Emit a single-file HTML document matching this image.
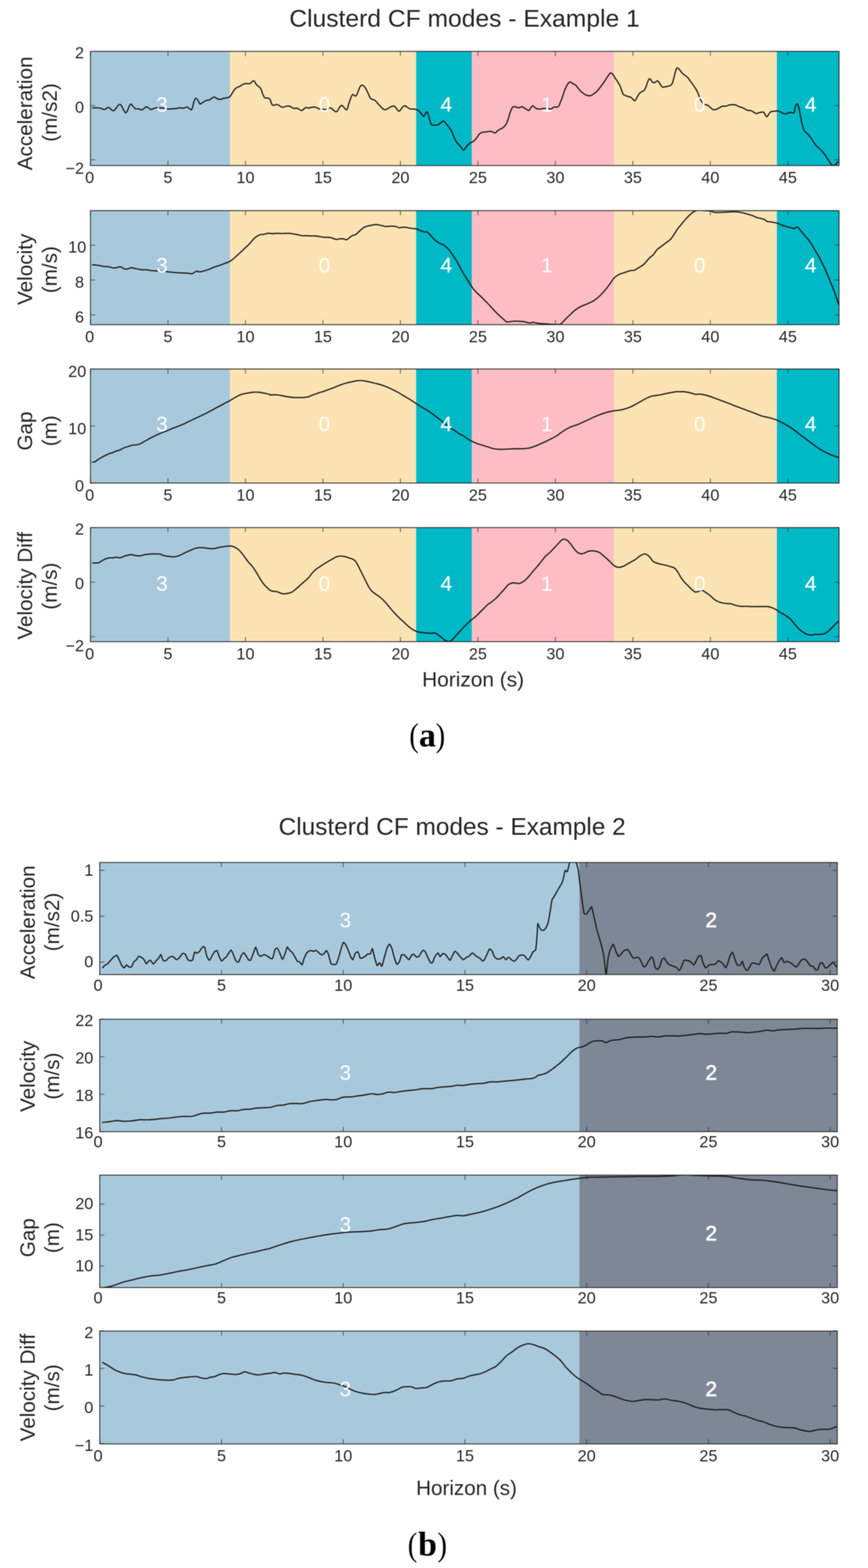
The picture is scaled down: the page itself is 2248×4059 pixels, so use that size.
<!DOCTYPE html>
<html><head><meta charset="utf-8"><title>Clusterd CF modes</title>
<style>html,body{margin:0;padding:0;background:#fff;}svg{display:block;}</style>
</head><body>
<svg width="2248" height="4059" viewBox="0 0 2248 4059">
<defs><filter id="soft" x="0" y="0" width="1" height="1" filterUnits="objectBoundingBox" color-interpolation-filters="sRGB"><feGaussianBlur stdDeviation="0.8"/></filter></defs>
<g filter="url(#soft)">
<rect x="0" y="0" width="2248" height="4059" fill="#ffffff"/>
<text x="1203" y="69.2" font-family="'Liberation Sans', Arial, Helvetica, sans-serif" font-size="63.8" fill="#262626" text-anchor="middle">Clusterd CF modes - Example 1</text>
<text x="1171" y="2161" font-family="'Liberation Sans', Arial, Helvetica, sans-serif" font-size="63.2" fill="#262626" text-anchor="middle">Clusterd CF modes - Example 2</text>
<g id="a1">
<rect x="234.3" y="133" width="361.3" height="295.5" fill="#a8c9dc"/>
<rect x="595.6" y="133" width="482.2" height="295.5" fill="#fbe3b4"/>
<rect x="1077.8" y="133" width="144.1" height="295.5" fill="#00b9c7"/>
<rect x="1221.9" y="133" width="368.6" height="295.5" fill="#febdc4"/>
<rect x="1590.5" y="133" width="421.6" height="295.5" fill="#fbe3b4"/>
<rect x="2012.1" y="133" width="160.9" height="295.5" fill="#00b9c7"/>
<clipPath id="clip_a1"><rect x="234.3" y="133" width="1938.7" height="295.5"/></clipPath>
<path clip-path="url(#clip_a1)" d="M239.8,279.2C241.7,279.2 247.7,279.0 251.0,279.2C254.4,279.3 256.9,279.2 259.8,279.9C262.7,280.6 266.2,283.0 268.5,283.4C270.9,283.8 272.0,283.2 273.8,282.3C275.6,281.4 277.3,278.5 279.1,278.1C280.8,277.7 282.3,278.5 284.3,279.9C286.4,281.2 289.3,285.3 291.3,286.2C293.4,287.0 294.8,286.5 296.6,285.1C298.3,283.8 299.8,280.6 301.8,278.1C303.9,275.7 306.8,271.3 308.8,270.4C310.9,269.5 312.3,270.7 314.1,272.9C315.8,275.0 317.5,280.2 319.3,283.4C321.2,286.6 323.6,291.5 325.3,292.1C327.1,292.7 328.2,289.9 329.9,286.9C331.5,283.8 333.5,276.8 335.1,273.9C336.7,271.0 337.9,269.2 339.3,269.3C340.8,269.5 341.9,272.6 343.9,274.6C345.8,276.6 348.5,280.4 350.9,281.6C353.2,282.8 355.3,281.1 357.9,281.6C360.5,282.1 364.3,284.4 366.7,284.4C369.0,284.4 369.9,283.0 371.9,281.6C374.0,280.3 376.9,276.8 378.9,276.4C381.0,275.9 382.1,278.0 384.2,279.2C386.2,280.3 388.8,283.1 391.2,283.4C393.5,283.7 395.8,281.7 398.2,280.9C400.5,280.2 402.9,279.0 405.2,278.8C407.5,278.6 409.9,279.8 412.2,279.9C414.5,279.9 416.9,279.0 419.2,279.2C421.5,279.3 423.3,280.4 426.2,280.9C429.1,281.4 433.2,282.2 436.7,282.3C440.2,282.4 443.7,281.8 447.2,281.6C450.7,281.4 454.8,281.3 457.8,280.9C460.7,280.5 461.8,279.3 464.8,279.2C467.7,279.0 472.1,280.2 475.3,279.9C478.5,279.5 481.7,277.1 484.0,277.1C486.4,277.1 487.4,278.6 489.3,279.9C491.2,281.1 493.8,284.4 495.2,284.4C496.7,284.4 496.8,283.5 498.0,279.9C499.3,276.2 501.1,266.6 502.6,262.3C504.1,258.1 505.2,254.9 506.8,254.3C508.4,253.7 510.3,256.4 512.1,258.8C513.8,261.2 515.9,267.1 517.3,268.6C518.8,270.2 519.1,269.2 520.8,268.3C522.6,267.4 525.5,264.8 527.8,263.4C530.2,262.0 532.5,260.6 534.8,259.9C537.2,259.1 539.8,259.6 541.8,258.8C543.9,258.1 545.1,256.6 547.1,255.3C549.1,254.0 552.1,251.4 554.1,251.1C556.2,250.8 557.3,252.6 559.4,253.6C561.4,254.6 564.3,256.5 566.4,257.1C568.4,257.7 569.6,257.5 571.6,257.1C573.7,256.7 576.3,255.2 578.6,254.6C581.0,254.0 583.3,254.0 585.6,253.6C588.0,253.1 590.9,252.5 592.6,251.8C594.4,251.1 594.7,251.1 596.2,249.4C597.6,247.6 599.7,244.1 601.4,241.3C603.2,238.5 604.6,235.1 606.7,232.6C608.7,230.0 611.3,227.7 613.7,226.3C616.0,224.8 618.6,224.8 620.7,223.8C622.7,222.8 623.9,221.5 625.9,220.3C628.0,219.1 630.9,217.5 632.9,216.8C635.0,216.1 636.2,216.1 638.2,216.1C640.2,216.1 643.2,217.1 645.2,216.8C647.3,216.4 648.7,215.3 650.5,214.0C652.2,212.7 654.3,209.6 655.7,209.1C657.2,208.6 657.8,209.1 659.2,210.8C660.7,212.6 662.4,217.3 664.5,219.6C666.5,221.9 669.6,223.1 671.5,224.8C673.4,226.6 674.2,227.1 675.7,230.1C677.2,233.1 678.6,239.3 680.2,243.1C681.9,246.9 683.7,251.1 685.5,252.9C687.3,254.6 689.0,253.3 690.8,253.6C692.5,253.8 694.5,253.4 696.0,254.3C697.6,255.2 698.6,256.2 700.0,258.8C701.4,261.5 702.7,268.1 704.2,270.4C705.7,272.7 706.8,272.9 708.8,272.9C710.7,272.9 713.7,270.6 715.8,270.4C717.8,270.2 719.0,270.8 721.0,271.8C723.1,272.8 726.0,275.4 728.0,276.4C730.1,277.3 731.2,277.6 733.3,277.4C735.3,277.2 737.7,275.8 740.3,275.3C742.9,274.8 746.4,274.1 749.1,274.6C751.7,275.1 754.0,277.1 756.1,278.1C758.1,279.2 759.3,280.6 761.3,280.9C763.4,281.2 766.0,279.5 768.3,279.9C770.7,280.3 773.2,282.3 775.3,283.4C777.5,284.4 779.2,286.5 781.3,286.2C783.3,285.9 785.7,283.0 787.6,281.6C789.5,280.3 790.8,278.4 792.9,278.1C794.9,277.8 797.8,279.9 799.9,279.9C801.9,279.9 803.1,278.6 805.1,278.1C807.2,277.6 809.8,277.1 812.1,277.1C814.5,277.1 816.8,277.3 819.1,278.1C821.5,278.9 823.8,280.9 826.1,281.6C828.5,282.3 830.8,282.0 833.1,282.3C835.5,282.6 837.8,283.3 840.2,283.4C842.5,283.4 844.5,283.4 847.2,282.7C849.8,282.0 853.3,278.9 855.9,279.2C858.5,279.5 860.5,282.7 862.9,284.4C865.4,286.1 868.6,289.2 870.6,289.3C872.7,289.4 873.6,287.3 875.2,285.1C876.8,283.0 878.7,278.4 880.4,276.4C882.2,274.3 884.0,272.6 885.7,272.9C887.5,273.1 888.9,276.2 891.0,278.1C893.0,280.0 895.9,285.9 898.0,284.4C900.0,283.0 901.5,274.5 903.2,269.3C905.0,264.2 906.8,257.7 908.5,253.6C910.1,249.5 911.3,245.7 913.0,244.8C914.8,243.9 917.4,247.9 919.0,248.3C920.6,248.8 921.2,249.4 922.5,247.6C923.8,245.9 925.5,241.5 927.0,237.8C928.6,234.1 930.3,228.5 932.0,225.6C933.6,222.6 935.3,220.6 937.2,220.3C939.1,220.0 941.6,221.9 943.5,223.8C945.4,225.7 947.0,228.6 948.8,231.9C950.5,235.1 952.3,239.3 954.0,243.1C955.8,246.8 957.5,251.8 959.3,254.3C961.0,256.7 962.8,257.0 964.5,257.8C966.3,258.5 967.8,257.5 969.8,258.8C971.8,260.2 974.5,263.3 976.8,265.8C979.1,268.4 981.5,271.4 983.8,273.9C986.1,276.4 988.6,279.2 990.8,280.9C993.0,282.6 994.8,284.1 997.1,284.1C999.5,284.1 1002.4,282.2 1004.8,280.9C1007.3,279.6 1009.2,277.4 1011.8,276.4C1014.5,275.3 1018.3,274.0 1020.6,274.6C1022.9,275.2 1023.8,277.6 1025.9,279.9C1027.9,282.1 1030.8,287.3 1032.9,287.9C1034.9,288.5 1036.4,285.3 1038.1,283.4C1039.9,281.4 1041.6,277.9 1043.4,276.4C1045.1,274.8 1046.6,273.6 1048.6,273.9C1050.7,274.2 1053.3,276.7 1055.6,278.1C1058.0,279.5 1060.0,281.6 1062.6,282.3C1065.3,283.0 1068.8,282.1 1071.4,282.3C1074.0,282.5 1076.1,282.4 1078.4,283.4C1080.8,284.3 1083.1,285.9 1085.4,287.9C1087.8,290.0 1090.4,293.5 1092.4,295.6C1094.5,297.8 1095.9,301.5 1097.7,300.9C1099.4,300.3 1101.5,294.0 1102.9,292.1C1104.4,290.3 1105.3,288.5 1106.4,289.7C1107.6,290.8 1108.7,294.9 1110.0,299.1C1111.2,303.3 1112.7,310.8 1114.2,314.9C1115.6,319.0 1116.8,322.2 1118.7,323.7C1120.6,325.1 1123.1,323.8 1125.7,323.7C1128.3,323.5 1132.1,323.7 1134.5,323.0C1136.8,322.3 1137.9,320.9 1139.7,319.5C1141.6,318.0 1143.9,315.1 1145.7,314.2C1147.4,313.3 1148.6,313.2 1150.2,314.2C1151.9,315.2 1153.5,317.7 1155.5,320.2C1157.5,322.6 1160.2,325.7 1162.5,328.9C1164.8,332.1 1167.5,335.5 1169.5,339.4C1171.6,343.3 1173.3,348.9 1174.8,352.4C1176.2,355.9 1176.8,357.6 1178.3,360.4C1179.7,363.3 1181.5,366.6 1183.5,369.2C1185.6,371.8 1187.8,373.0 1190.5,376.2C1193.3,379.4 1197.5,387.3 1200.0,388.5C1202.5,389.6 1203.2,385.6 1205.3,383.2C1207.3,380.9 1209.9,376.8 1212.3,374.5C1214.6,372.1 1216.9,370.7 1219.3,369.2C1221.6,367.7 1223.9,367.5 1226.3,365.7C1228.6,364.0 1231.0,361.6 1233.3,358.7C1235.6,355.8 1238.0,350.8 1240.3,348.2C1242.6,345.6 1244.7,344.0 1247.3,342.9C1249.9,341.9 1253.1,342.3 1256.1,341.9C1259.0,341.5 1261.9,340.7 1264.8,340.5C1267.7,340.2 1270.7,339.9 1273.6,340.5C1276.5,341.1 1279.7,344.4 1282.3,344.0C1285.0,343.5 1287.0,339.3 1289.3,337.7C1291.7,336.0 1294.0,335.5 1296.4,334.2C1298.7,332.9 1301.0,332.0 1303.4,330.0C1305.7,327.9 1308.3,325.3 1310.4,321.9C1312.4,318.5 1313.9,314.6 1315.6,309.6C1317.4,304.7 1319.1,297.1 1320.9,292.1C1322.6,287.2 1324.4,282.6 1326.1,279.9C1327.9,277.1 1329.6,276.1 1331.4,275.7C1333.1,275.2 1334.6,276.9 1336.7,277.4C1338.7,277.9 1341.0,279.0 1343.7,278.8C1346.3,278.6 1349.8,276.1 1352.4,276.4C1355.0,276.6 1357.4,279.3 1359.4,280.6C1361.5,281.8 1362.9,282.8 1364.7,283.7C1366.4,284.6 1368.2,286.8 1369.9,285.8C1371.7,284.9 1373.4,280.1 1375.2,278.1C1376.9,276.1 1378.7,273.8 1380.4,273.9C1382.2,274.0 1384.0,277.5 1385.7,278.8C1387.5,280.1 1388.9,281.0 1391.0,281.6C1393.0,282.2 1395.3,282.4 1398.0,282.3C1400.6,282.2 1404.1,281.2 1406.7,280.9C1409.4,280.6 1411.4,280.6 1413.7,280.6C1416.1,280.6 1418.5,280.6 1420.7,280.9C1423.0,281.2 1424.7,283.0 1427.0,282.3C1429.4,281.7 1432.3,277.9 1434.8,277.1C1437.2,276.2 1439.7,277.8 1441.8,277.4C1443.8,277.0 1445.3,277.1 1447.0,274.6C1448.8,272.1 1450.5,266.7 1452.3,262.3C1454.0,258.0 1455.8,253.3 1457.5,248.3C1459.3,243.4 1460.7,237.5 1462.8,232.6C1464.8,227.6 1467.5,221.9 1469.8,218.5C1472.1,215.2 1474.5,212.5 1476.8,212.2C1479.1,211.9 1481.5,215.4 1483.8,216.8C1486.1,218.1 1488.5,218.3 1490.8,220.3C1493.2,222.3 1495.5,226.3 1497.8,229.1C1500.2,231.9 1502.5,234.9 1504.8,237.1C1507.2,239.3 1509.5,240.8 1511.8,242.4C1514.2,243.9 1515.9,245.7 1518.9,246.6C1521.8,247.4 1526.4,248.1 1529.4,247.6C1532.3,247.2 1533.7,245.5 1536.4,243.8C1539.0,242.0 1542.2,240.0 1545.1,237.1C1548.0,234.3 1551.0,230.3 1553.9,226.6C1556.8,222.9 1559.7,219.2 1562.6,215.0C1565.6,210.9 1568.8,205.6 1571.4,201.7C1574.0,197.8 1576.7,193.7 1578.4,191.6C1580.2,189.4 1580.5,188.6 1581.9,188.8C1583.4,188.9 1585.4,190.2 1587.2,192.3C1588.9,194.3 1590.4,197.8 1592.4,201.0C1594.5,204.2 1597.1,207.7 1599.4,211.5C1601.8,215.3 1604.1,218.5 1606.4,223.8C1608.8,229.1 1611.1,239.1 1613.5,243.1C1615.8,247.0 1618.1,246.5 1620.5,247.6C1622.8,248.8 1625.1,249.3 1627.5,250.1C1629.8,250.8 1631.9,250.4 1634.5,252.2C1637.1,253.9 1640.9,260.2 1643.2,260.6C1645.6,261.0 1646.4,257.7 1648.5,254.6C1650.5,251.6 1653.2,245.3 1655.5,242.4C1657.8,239.4 1660.5,238.5 1662.5,237.1C1664.6,235.8 1666.0,236.4 1667.8,234.3C1669.5,232.3 1671.3,228.9 1673.0,224.8C1674.8,220.8 1676.6,213.3 1678.3,209.8C1679.9,206.3 1681.1,203.5 1682.8,203.8C1684.6,204.1 1686.9,209.8 1688.8,211.5C1690.7,213.3 1691.7,214.7 1694.0,214.3C1696.4,214.0 1700.4,209.2 1702.8,209.4C1705.1,209.5 1706.3,213.0 1708.0,215.3C1709.8,217.7 1711.7,221.6 1713.3,223.4C1714.9,225.1 1715.8,225.7 1717.8,225.8C1719.9,226.0 1722.5,224.9 1725.6,224.1C1728.6,223.3 1733.4,222.7 1736.1,221.3C1738.7,219.8 1739.9,218.4 1741.3,215.3C1742.8,212.3 1743.7,207.4 1744.8,203.1C1746.0,198.7 1747.2,193.3 1748.3,189.1C1749.5,184.8 1750.7,180.1 1751.8,177.8C1753.0,175.6 1753.9,175.2 1755.3,175.7C1756.8,176.3 1758.5,179.0 1760.6,181.3C1762.6,183.7 1765.3,187.8 1767.6,190.1C1769.9,192.4 1772.3,193.5 1774.6,195.4C1776.9,197.2 1779.3,198.7 1781.6,201.3C1783.9,203.9 1786.3,207.9 1788.6,211.1C1791.0,214.3 1793.3,217.3 1795.6,220.6C1798.0,223.9 1800.6,227.6 1802.6,231.1C1804.7,234.6 1806.1,237.5 1807.9,241.6C1809.6,245.7 1811.4,251.8 1813.1,255.6C1814.9,259.4 1816.7,262.1 1818.4,264.4C1820.2,266.7 1821.9,268.5 1823.7,269.6C1825.4,270.8 1827.2,270.8 1828.9,271.4C1830.7,272.0 1832.1,271.8 1834.2,273.1C1836.2,274.5 1838.8,277.6 1841.2,279.5C1843.5,281.3 1845.8,283.8 1848.2,284.4C1850.5,284.9 1852.9,283.8 1855.2,283.0C1857.5,282.1 1859.6,280.8 1862.2,279.5C1864.8,278.1 1868.0,275.7 1871.0,274.9C1873.9,274.1 1876.5,275.5 1879.7,274.9C1882.9,274.3 1886.1,272.0 1890.2,271.4C1894.3,270.8 1900.7,270.8 1904.2,271.4C1907.8,272.0 1908.3,273.7 1911.3,274.9C1914.2,276.1 1918.8,277.2 1921.8,278.4C1924.7,279.6 1926.4,280.7 1928.8,281.9C1931.1,283.1 1933.2,284.7 1935.8,285.4C1938.4,286.2 1941.9,285.7 1944.5,286.5C1947.2,287.2 1949.2,288.7 1951.5,290.0C1953.9,291.2 1956.5,293.8 1958.6,294.2C1960.6,294.6 1961.8,293.0 1963.8,292.4C1965.9,291.8 1968.5,291.0 1970.8,290.7C1973.2,290.4 1975.8,289.2 1977.8,290.7C1979.9,292.1 1981.6,297.6 1983.1,299.4C1984.5,301.3 1985.1,302.8 1986.6,301.9C1988.0,301.0 1990.1,296.3 1991.8,294.2C1993.6,292.0 1994.8,290.0 1997.1,288.9C1999.4,287.9 2002.9,288.2 2005.9,287.9C2008.8,287.6 2012.0,286.8 2014.6,287.2C2017.2,287.5 2019.0,288.8 2021.6,290.0C2024.3,291.1 2027.8,293.5 2030.4,294.2C2033.0,294.9 2034.8,294.8 2037.4,294.2C2040.0,293.6 2043.8,291.0 2046.2,290.7C2048.5,290.4 2049.7,292.4 2051.4,292.4C2053.2,292.4 2055.2,293.6 2056.7,290.7C2058.1,287.7 2058.9,278.5 2060.2,274.9C2061.5,271.3 2063.0,268.6 2064.4,268.9C2065.7,269.2 2066.9,271.9 2068.2,276.7C2069.6,281.4 2070.9,290.1 2072.4,297.7C2074.0,305.3 2075.9,315.5 2077.7,322.2C2079.4,328.9 2080.6,333.9 2082.9,338.0C2085.3,342.1 2088.8,343.5 2091.7,346.7C2094.6,349.9 2097.8,353.6 2100.5,357.2C2103.1,360.9 2105.1,365.1 2107.5,368.5C2109.8,371.8 2111.6,374.5 2114.5,377.6C2117.4,380.7 2121.5,383.4 2125.0,387.0C2128.5,390.6 2132.6,395.5 2135.5,399.3C2138.4,403.1 2140.2,406.3 2142.5,409.8C2144.8,413.3 2147.5,417.4 2149.5,420.3C2151.6,423.2 2152.7,426.1 2154.8,427.3C2156.8,428.5 2159.4,428.5 2161.8,427.3C2164.1,426.1 2166.7,422.1 2168.8,420.3C2170.8,418.6 2173.2,417.4 2174.0,416.8" fill="none" stroke="#1a1a1a" stroke-width="3.2" stroke-linejoin="round" stroke-linecap="round"/>
<path d="M234.3,428.5v-12M234.3,133.0v12M435.0,428.5v-12M435.0,133.0v12M635.7,428.5v-12M635.7,133.0v12M836.3,428.5v-12M836.3,133.0v12M1037.0,428.5v-12M1037.0,133.0v12M1237.7,428.5v-12M1237.7,133.0v12M1438.4,428.5v-12M1438.4,133.0v12M1639.1,428.5v-12M1639.1,133.0v12M1839.7,428.5v-12M1839.7,133.0v12M2040.4,428.5v-12M2040.4,133.0v12M234.3,413.6h12M2173.0,413.6h-12M234.3,273.3h12M2173.0,273.3h-12M234.3,133.0h12M2173.0,133.0h-12" stroke="#262626" stroke-opacity="0.75" stroke-width="2" fill="none"/>
<rect x="234.3" y="133" width="1938.7" height="295.5" fill="none" stroke="#262626" stroke-width="2.2"/>
<text x="419.4" y="289.0" font-family="'Liberation Sans', Arial, Helvetica, sans-serif" font-size="54" fill="#ffffff" text-anchor="middle">3</text>
<text x="840.3" y="289.0" font-family="'Liberation Sans', Arial, Helvetica, sans-serif" font-size="54" fill="#ffffff" text-anchor="middle">0</text>
<text x="1155.7" y="289.0" font-family="'Liberation Sans', Arial, Helvetica, sans-serif" font-size="54" fill="#ffffff" text-anchor="middle" stroke="#ffffff" stroke-width="0.6">4</text>
<text x="1416.3" y="289.0" font-family="'Liberation Sans', Arial, Helvetica, sans-serif" font-size="54" fill="#ffffff" text-anchor="middle">1</text>
<text x="1812.1" y="289.0" font-family="'Liberation Sans', Arial, Helvetica, sans-serif" font-size="54" fill="#ffffff" text-anchor="middle">0</text>
<text x="2099.4" y="289.0" font-family="'Liberation Sans', Arial, Helvetica, sans-serif" font-size="54" fill="#ffffff" text-anchor="middle" stroke="#ffffff" stroke-width="0.6">4</text>
<text x="232.3" y="473.5" font-family="'Liberation Sans', Arial, Helvetica, sans-serif" font-size="42" fill="#262626" text-anchor="middle">0</text>
<text x="435.0" y="473.5" font-family="'Liberation Sans', Arial, Helvetica, sans-serif" font-size="42" fill="#262626" text-anchor="middle">5</text>
<text x="635.7" y="473.5" font-family="'Liberation Sans', Arial, Helvetica, sans-serif" font-size="42" fill="#262626" text-anchor="middle">10</text>
<text x="836.3" y="473.5" font-family="'Liberation Sans', Arial, Helvetica, sans-serif" font-size="42" fill="#262626" text-anchor="middle">15</text>
<text x="1037.0" y="473.5" font-family="'Liberation Sans', Arial, Helvetica, sans-serif" font-size="42" fill="#262626" text-anchor="middle">20</text>
<text x="1237.7" y="473.5" font-family="'Liberation Sans', Arial, Helvetica, sans-serif" font-size="42" fill="#262626" text-anchor="middle">25</text>
<text x="1438.4" y="473.5" font-family="'Liberation Sans', Arial, Helvetica, sans-serif" font-size="42" fill="#262626" text-anchor="middle">30</text>
<text x="1639.1" y="473.5" font-family="'Liberation Sans', Arial, Helvetica, sans-serif" font-size="42" fill="#262626" text-anchor="middle">35</text>
<text x="1839.7" y="473.5" font-family="'Liberation Sans', Arial, Helvetica, sans-serif" font-size="42" fill="#262626" text-anchor="middle">40</text>
<text x="2040.4" y="473.5" font-family="'Liberation Sans', Arial, Helvetica, sans-serif" font-size="42" fill="#262626" text-anchor="middle">45</text>
<text x="217.6" y="450.0" font-family="'Liberation Sans', Arial, Helvetica, sans-serif" font-size="42" fill="#262626" text-anchor="end">−2</text>
<text x="217.6" y="291.7" font-family="'Liberation Sans', Arial, Helvetica, sans-serif" font-size="42" fill="#262626" text-anchor="end">0</text>
<text x="217.6" y="151.4" font-family="'Liberation Sans', Arial, Helvetica, sans-serif" font-size="42" fill="#262626" text-anchor="end">2</text>
<text transform="translate(83.1,293.5) rotate(-90)" x="0" y="0" font-family="'Liberation Sans', Arial, Helvetica, sans-serif" font-size="53.5" fill="#262626" text-anchor="middle">Acceleration</text>
<text transform="translate(147.2,291.3) rotate(-90)" x="0" y="0" font-family="'Liberation Sans', Arial, Helvetica, sans-serif" font-size="53.5" fill="#262626" text-anchor="middle">(m/s2)</text>
</g>
<g id="a2">
<rect x="234.3" y="545.2" width="361.3" height="295.2" fill="#a8c9dc"/>
<rect x="595.6" y="545.2" width="482.2" height="295.2" fill="#fbe3b4"/>
<rect x="1077.8" y="545.2" width="144.1" height="295.2" fill="#00b9c7"/>
<rect x="1221.9" y="545.2" width="368.6" height="295.2" fill="#febdc4"/>
<rect x="1590.5" y="545.2" width="421.6" height="295.2" fill="#fbe3b4"/>
<rect x="2012.1" y="545.2" width="160.9" height="295.2" fill="#00b9c7"/>
<clipPath id="clip_a2"><rect x="234.3" y="545.2" width="1938.7" height="295.2"/></clipPath>
<path clip-path="url(#clip_a2)" d="M239.8,685.4C241.7,685.6 247.4,686.0 251.0,686.5C254.6,686.9 258.3,687.6 261.5,688.2C264.7,688.8 267.4,689.7 270.3,690.0C273.2,690.3 276.4,689.7 279.1,690.0C281.7,690.3 283.7,691.1 286.1,691.7C288.4,692.3 290.4,693.2 293.1,693.5C295.7,693.7 299.2,693.6 301.8,693.1C304.5,692.7 306.8,691.0 308.8,690.7C310.9,690.4 312.0,690.6 314.1,691.4C316.1,692.1 319.1,694.3 321.1,695.2C323.1,696.2 324.3,697.0 326.4,697.0C328.4,697.0 331.0,695.9 333.4,695.2C335.7,694.6 337.7,693.2 340.4,693.1C343.0,693.1 345.9,694.2 349.1,694.9C352.3,695.5 356.4,696.4 359.6,697.0C362.9,697.6 364.9,698.1 368.4,698.4C371.9,698.6 376.9,698.0 380.7,698.4C384.5,698.7 387.1,700.0 391.2,700.5C395.3,700.9 400.5,700.9 405.2,701.2C409.9,701.4 414.5,701.5 419.2,701.9C423.9,702.2 428.6,702.8 433.2,703.3C437.9,703.8 442.6,704.6 447.2,705.0C451.9,705.5 456.6,705.8 461.3,706.1C465.9,706.4 470.6,706.5 475.3,706.8C479.9,707.0 485.8,707.1 489.3,707.5C492.8,707.8 494.2,709.1 496.3,708.9C498.3,708.7 499.5,707.5 501.5,706.4C503.6,705.3 506.2,702.7 508.6,702.2C510.9,701.8 513.2,703.5 515.6,703.6C517.9,703.7 519.9,703.5 522.6,702.9C525.2,702.4 528.1,701.5 531.3,700.5C534.5,699.5 538.6,698.2 541.8,697.0C545.1,695.7 547.7,694.3 550.6,693.1C553.5,692.0 556.2,691.1 559.4,690.0C562.6,688.9 566.4,687.7 569.9,686.5C573.4,685.2 576.9,683.9 580.4,682.6C583.9,681.3 588.3,679.9 590.9,678.8C593.5,677.6 594.4,677.0 596.2,675.9C597.9,674.9 598.8,674.5 601.4,672.4C604.0,670.3 608.4,666.4 611.9,663.3C615.4,660.2 618.9,657.1 622.4,653.9C625.9,650.6 629.4,647.0 632.9,643.7C636.4,640.4 640.2,637.2 643.5,633.9C646.7,630.6 649.6,627.0 652.2,624.1C654.8,621.2 656.6,618.7 659.2,616.4C661.9,614.0 665.4,611.6 668.0,610.1C670.6,608.6 672.4,607.9 675.0,607.3C677.6,606.7 680.8,607.1 683.7,606.6C686.7,606.0 689.9,604.5 692.5,604.1C695.1,603.7 698.3,604.1 699.5,604.1C700.8,604.1 698.5,604.0 700.0,604.1C701.5,604.2 705.8,604.9 708.8,604.8C711.7,604.8 714.3,603.8 717.5,603.8C720.7,603.7 724.5,604.4 728.0,604.5C731.5,604.5 734.7,604.2 738.5,604.1C742.3,604.1 747.0,603.8 750.8,604.1C754.6,604.4 757.8,605.3 761.3,605.9C764.8,606.5 768.3,606.9 771.8,607.6C775.3,608.3 778.8,609.7 782.3,610.1C785.8,610.5 789.1,610.0 792.9,610.1C796.6,610.2 801.0,610.7 805.1,610.8C809.2,610.9 813.6,610.5 817.4,610.8C821.2,611.1 824.1,611.9 827.9,612.5C831.7,613.1 835.8,613.9 840.2,614.3C844.5,614.6 850.4,614.2 854.2,614.6C858.0,615.1 860.0,616.2 862.9,617.1C865.8,618.0 868.5,619.8 871.7,619.9C874.9,620.0 879.0,618.0 882.2,617.8C885.4,617.6 888.3,618.4 891.0,618.8C893.6,619.3 895.6,621.2 898.0,620.6C900.3,620.0 902.6,617.1 905.0,615.3C907.3,613.6 909.4,611.4 912.0,610.1C914.6,608.7 918.1,608.7 920.7,607.3C923.4,605.8 925.1,603.7 927.8,601.3C930.4,599.0 933.6,595.6 936.5,593.3C939.4,590.9 942.3,588.8 945.3,587.3C948.2,585.8 951.1,585.2 954.0,584.5C956.9,583.8 959.9,583.6 962.8,583.1C965.7,582.6 968.6,581.5 971.5,581.3C974.5,581.2 977.1,581.5 980.3,582.0C983.5,582.6 987.6,583.8 990.8,584.5C994.0,585.2 996.4,586.1 999.6,586.3C1002.8,586.4 1006.6,585.7 1010.1,585.6C1013.6,585.4 1017.7,585.3 1020.6,585.6C1023.5,585.8 1025.3,586.6 1027.6,587.3C1029.9,588.0 1032.3,589.6 1034.6,589.8C1037.0,589.9 1039.3,588.6 1041.6,588.4C1044.0,588.1 1046.0,587.8 1048.6,588.0C1051.3,588.2 1054.2,589.2 1057.4,589.8C1060.6,590.3 1064.4,591.0 1067.9,591.5C1071.4,592.0 1075.5,591.9 1078.4,592.6C1081.3,593.2 1083.1,594.4 1085.4,595.4C1087.8,596.3 1090.1,597.3 1092.4,598.2C1094.8,599.0 1097.1,599.9 1099.4,600.3C1101.8,600.7 1104.1,599.4 1106.4,600.6C1108.8,601.8 1111.1,604.8 1113.5,607.3C1115.8,609.7 1117.8,612.6 1120.5,615.3C1123.1,618.0 1126.3,621.1 1129.2,623.4C1132.1,625.7 1135.1,627.7 1138.0,629.3C1140.9,631.0 1143.8,631.6 1146.7,633.2C1149.7,634.8 1152.9,637.0 1155.5,639.2C1158.1,641.3 1160.2,643.4 1162.5,646.2C1164.8,648.9 1167.2,652.3 1169.5,655.6C1171.9,659.0 1173.9,662.1 1176.5,666.1C1179.2,670.2 1182.4,675.0 1185.3,680.2C1188.2,685.3 1191.6,692.4 1194.0,697.0C1196.5,701.5 1197.8,703.9 1200.0,707.5C1202.2,711.1 1204.4,714.5 1207.0,718.7C1209.6,722.9 1212.8,728.2 1215.8,732.7C1218.7,737.3 1221.6,742.1 1224.5,746.0C1227.4,749.9 1230.1,752.9 1233.3,756.2C1236.5,759.5 1240.3,762.6 1243.8,766.0C1247.3,769.4 1250.8,773.0 1254.3,776.5C1257.8,780.0 1261.3,783.3 1264.8,787.0C1268.3,790.7 1271.8,794.8 1275.3,798.6C1278.8,802.4 1282.3,806.3 1285.8,809.8C1289.3,813.3 1293.1,816.7 1296.4,819.6C1299.6,822.5 1302.5,825.0 1305.1,827.3C1307.7,829.6 1309.8,832.3 1312.1,833.3C1314.5,834.2 1316.2,833.2 1319.1,832.9C1322.1,832.6 1326.1,831.8 1329.6,831.5C1333.1,831.3 1336.7,831.5 1340.2,831.5C1343.7,831.6 1347.2,831.5 1350.7,831.9C1354.2,832.2 1357.7,832.9 1361.2,833.6C1364.7,834.3 1368.5,836.0 1371.7,836.1C1374.9,836.2 1377.5,834.3 1380.4,834.3C1383.4,834.3 1386.0,835.6 1389.2,836.1C1392.4,836.6 1396.2,837.1 1399.7,837.5C1403.2,837.8 1406.7,837.9 1410.2,838.2C1413.7,838.4 1417.2,838.6 1420.7,838.9C1424.2,839.1 1427.8,839.4 1431.3,839.6C1434.8,839.8 1438.6,839.9 1441.8,839.9C1445.0,839.9 1447.9,840.6 1450.5,839.6C1453.2,838.5 1454.9,836.1 1457.5,833.6C1460.2,831.1 1463.1,827.7 1466.3,824.5C1469.5,821.3 1473.3,817.7 1476.8,814.4C1480.3,811.0 1484.1,807.2 1487.3,804.5C1490.5,801.9 1492.9,800.3 1496.1,798.2C1499.3,796.2 1503.1,794.0 1506.6,792.3C1510.1,790.6 1513.6,789.5 1517.1,788.1C1520.6,786.6 1524.4,785.0 1527.6,783.5C1530.8,782.1 1533.5,781.1 1536.4,779.3C1539.3,777.6 1542.2,775.3 1545.1,773.0C1548.0,770.7 1551.0,768.1 1553.9,765.3C1556.8,762.5 1559.7,759.5 1562.6,756.2C1565.6,752.9 1568.5,749.4 1571.4,745.7C1574.3,741.9 1577.2,737.8 1580.2,733.8C1583.1,729.7 1586.0,724.8 1588.9,721.5C1591.8,718.2 1594.8,715.9 1597.7,713.8C1600.6,711.7 1603.5,710.1 1606.4,708.9C1609.4,707.7 1612.3,707.4 1615.2,706.4C1618.1,705.5 1621.0,704.3 1624.0,703.3C1626.9,702.3 1629.5,701.1 1632.7,700.5C1635.9,699.8 1640.0,700.5 1643.2,699.4C1646.4,698.4 1648.2,696.5 1652.0,694.2C1655.8,691.8 1662.2,688.4 1666.0,685.4C1669.8,682.4 1671.9,679.2 1674.8,675.9C1677.7,672.7 1680.6,668.9 1683.5,666.1C1686.5,663.3 1689.4,662.3 1692.3,659.1C1695.2,655.9 1697.8,650.3 1701.0,646.9C1704.2,643.5 1707.7,641.7 1711.5,638.8C1715.3,635.9 1719.7,632.5 1723.8,629.3C1727.9,626.2 1732.6,623.4 1736.1,619.9C1739.6,616.4 1741.9,612.6 1744.8,608.3C1747.7,604.1 1750.4,598.8 1753.6,594.3C1756.8,589.8 1760.6,585.6 1764.1,581.3C1767.6,577.1 1771.1,572.7 1774.6,568.7C1778.1,564.8 1781.6,560.8 1785.1,557.5C1788.6,554.2 1792.1,551.0 1795.6,548.8C1799.1,546.5 1802.6,545.0 1806.1,544.2C1809.6,543.4 1813.1,544.0 1816.7,544.2C1820.2,544.4 1823.4,544.9 1827.2,545.3C1831.0,545.6 1835.3,545.5 1839.4,546.3C1843.5,547.1 1847.3,549.2 1851.7,549.8C1856.1,550.4 1861.0,549.9 1865.7,549.8C1870.4,549.7 1875.0,549.3 1879.7,549.1C1884.4,548.9 1889.1,548.5 1893.7,548.4C1898.4,548.3 1903.7,548.2 1907.8,548.4C1911.8,548.6 1914.8,549.2 1918.3,549.8C1921.8,550.5 1925.0,551.3 1928.8,552.3C1932.6,553.3 1937.2,554.6 1941.0,555.8C1944.8,556.9 1948.3,558.0 1951.5,559.3C1954.8,560.5 1957.1,562.1 1960.3,563.1C1963.5,564.2 1967.6,564.8 1970.8,565.6C1974.0,566.4 1977.0,566.7 1979.6,568.0C1982.2,569.3 1984.0,572.2 1986.6,573.3C1989.2,574.3 1992.4,573.9 1995.3,574.3C1998.3,574.7 2001.2,575.2 2004.1,575.7C2007.0,576.3 2009.9,576.9 2012.9,577.8C2015.8,578.8 2018.7,580.2 2021.6,581.3C2024.5,582.5 2027.2,583.8 2030.4,584.8C2033.6,585.9 2037.7,586.8 2040.9,587.7C2044.1,588.5 2047.0,589.1 2049.7,589.8C2052.3,590.5 2054.6,592.1 2056.7,591.9C2058.7,591.6 2060.2,588.8 2061.9,588.4C2063.7,587.9 2065.1,587.5 2067.2,589.1C2069.2,590.6 2071.6,594.6 2074.2,597.8C2076.8,601.0 2079.7,604.5 2082.9,608.3C2086.2,612.1 2090.2,616.5 2093.5,620.6C2096.7,624.7 2099.3,628.3 2102.2,632.9C2105.1,637.4 2108.1,643.0 2111.0,647.9C2113.9,652.9 2116.8,657.4 2119.7,662.6C2122.7,667.9 2125.6,673.6 2128.5,679.5C2131.4,685.3 2134.3,691.1 2137.3,697.7C2140.2,704.2 2143.1,711.7 2146.0,718.7C2148.9,725.7 2151.9,732.4 2154.8,739.7C2157.7,747.0 2160.6,754.3 2163.5,762.5C2166.5,770.7 2170.8,784.4 2172.3,788.8" fill="none" stroke="#1a1a1a" stroke-width="3.2" stroke-linejoin="round" stroke-linecap="round"/>
<path d="M234.3,840.4v-12M234.3,545.2v12M435.0,840.4v-12M435.0,545.2v12M635.7,840.4v-12M635.7,545.2v12M836.3,840.4v-12M836.3,545.2v12M1037.0,840.4v-12M1037.0,545.2v12M1237.7,840.4v-12M1237.7,545.2v12M1438.4,840.4v-12M1438.4,545.2v12M1639.1,840.4v-12M1639.1,545.2v12M1839.7,840.4v-12M1839.7,545.2v12M2040.4,840.4v-12M2040.4,545.2v12M234.3,815.2h12M2173.0,815.2h-12M234.3,724.8h12M2173.0,724.8h-12M234.3,634.4h12M2173.0,634.4h-12" stroke="#262626" stroke-opacity="0.75" stroke-width="2" fill="none"/>
<rect x="234.3" y="545.2" width="1938.7" height="295.2" fill="none" stroke="#262626" stroke-width="2.2"/>
<text x="419.4" y="704.7" font-family="'Liberation Sans', Arial, Helvetica, sans-serif" font-size="54" fill="#ffffff" text-anchor="middle">3</text>
<text x="840.3" y="704.7" font-family="'Liberation Sans', Arial, Helvetica, sans-serif" font-size="54" fill="#ffffff" text-anchor="middle">0</text>
<text x="1155.7" y="704.7" font-family="'Liberation Sans', Arial, Helvetica, sans-serif" font-size="54" fill="#ffffff" text-anchor="middle" stroke="#ffffff" stroke-width="0.6">4</text>
<text x="1416.3" y="704.7" font-family="'Liberation Sans', Arial, Helvetica, sans-serif" font-size="54" fill="#ffffff" text-anchor="middle">1</text>
<text x="1812.1" y="704.7" font-family="'Liberation Sans', Arial, Helvetica, sans-serif" font-size="54" fill="#ffffff" text-anchor="middle">0</text>
<text x="2099.4" y="704.7" font-family="'Liberation Sans', Arial, Helvetica, sans-serif" font-size="54" fill="#ffffff" text-anchor="middle" stroke="#ffffff" stroke-width="0.6">4</text>
<text x="232.3" y="885.8" font-family="'Liberation Sans', Arial, Helvetica, sans-serif" font-size="42" fill="#262626" text-anchor="middle">0</text>
<text x="435.0" y="885.8" font-family="'Liberation Sans', Arial, Helvetica, sans-serif" font-size="42" fill="#262626" text-anchor="middle">5</text>
<text x="635.7" y="885.8" font-family="'Liberation Sans', Arial, Helvetica, sans-serif" font-size="42" fill="#262626" text-anchor="middle">10</text>
<text x="836.3" y="885.8" font-family="'Liberation Sans', Arial, Helvetica, sans-serif" font-size="42" fill="#262626" text-anchor="middle">15</text>
<text x="1037.0" y="885.8" font-family="'Liberation Sans', Arial, Helvetica, sans-serif" font-size="42" fill="#262626" text-anchor="middle">20</text>
<text x="1237.7" y="885.8" font-family="'Liberation Sans', Arial, Helvetica, sans-serif" font-size="42" fill="#262626" text-anchor="middle">25</text>
<text x="1438.4" y="885.8" font-family="'Liberation Sans', Arial, Helvetica, sans-serif" font-size="42" fill="#262626" text-anchor="middle">30</text>
<text x="1639.1" y="885.8" font-family="'Liberation Sans', Arial, Helvetica, sans-serif" font-size="42" fill="#262626" text-anchor="middle">35</text>
<text x="1839.7" y="885.8" font-family="'Liberation Sans', Arial, Helvetica, sans-serif" font-size="42" fill="#262626" text-anchor="middle">40</text>
<text x="2040.4" y="885.8" font-family="'Liberation Sans', Arial, Helvetica, sans-serif" font-size="42" fill="#262626" text-anchor="middle">45</text>
<text x="217.6" y="835.2" font-family="'Liberation Sans', Arial, Helvetica, sans-serif" font-size="42" fill="#262626" text-anchor="end">6</text>
<text x="217.6" y="744.8" font-family="'Liberation Sans', Arial, Helvetica, sans-serif" font-size="42" fill="#262626" text-anchor="end">8</text>
<text x="223.3" y="654.4" font-family="'Liberation Sans', Arial, Helvetica, sans-serif" font-size="42" fill="#262626" text-anchor="end">10</text>
<text transform="translate(83.1,697.2) rotate(-90)" x="0" y="0" font-family="'Liberation Sans', Arial, Helvetica, sans-serif" font-size="53.5" fill="#262626" text-anchor="middle">Velocity</text>
<text transform="translate(147.2,698.2) rotate(-90)" x="0" y="0" font-family="'Liberation Sans', Arial, Helvetica, sans-serif" font-size="53.5" fill="#262626" text-anchor="middle">(m/s)</text>
</g>
<g id="a3">
<rect x="234.3" y="955.2" width="361.3" height="295.2" fill="#a8c9dc"/>
<rect x="595.6" y="955.2" width="482.2" height="295.2" fill="#fbe3b4"/>
<rect x="1077.8" y="955.2" width="144.1" height="295.2" fill="#00b9c7"/>
<rect x="1221.9" y="955.2" width="368.6" height="295.2" fill="#febdc4"/>
<rect x="1590.5" y="955.2" width="421.6" height="295.2" fill="#fbe3b4"/>
<rect x="2012.1" y="955.2" width="160.9" height="295.2" fill="#00b9c7"/>
<clipPath id="clip_a3"><rect x="234.3" y="955.2" width="1938.7" height="295.2"/></clipPath>
<path clip-path="url(#clip_a3)" d="M239.8,1196.3C240.8,1196.1 243.3,1196.4 245.8,1195.3C248.2,1194.1 251.6,1191.2 254.5,1189.3C257.4,1187.4 260.4,1185.7 263.3,1184.1C266.2,1182.4 268.8,1181.1 272.0,1179.5C275.3,1177.9 279.3,1175.5 282.6,1174.2C285.8,1173.0 288.4,1172.8 291.3,1171.8C294.2,1170.7 296.9,1169.1 300.1,1167.9C303.3,1166.8 307.1,1166.2 310.6,1164.8C314.1,1163.3 317.6,1160.6 321.1,1159.2C324.6,1157.7 328.1,1157.1 331.6,1156.0C335.1,1154.9 338.6,1153.3 342.1,1152.5C345.6,1151.8 349.1,1152.1 352.6,1151.5C356.1,1150.9 359.6,1150.5 363.1,1149.0C366.7,1147.6 370.2,1144.7 373.7,1142.7C377.2,1140.7 380.7,1139.0 384.2,1137.1C387.7,1135.2 391.2,1133.3 394.7,1131.5C398.2,1129.7 401.7,1127.9 405.2,1126.2C408.7,1124.6 412.2,1123.1 415.7,1121.7C419.2,1120.2 422.7,1118.9 426.2,1117.5C429.7,1116.1 433.2,1114.7 436.7,1113.3C440.2,1111.8 443.7,1110.1 447.2,1108.7C450.7,1107.3 454.2,1106.2 457.8,1104.9C461.3,1103.5 464.8,1102.1 468.3,1100.7C471.8,1099.2 475.3,1097.7 478.8,1096.1C482.3,1094.5 485.8,1092.5 489.3,1090.9C492.8,1089.2 496.3,1087.6 499.8,1085.9C503.3,1084.3 506.8,1082.7 510.3,1081.0C513.8,1079.4 517.3,1077.8 520.8,1076.1C524.3,1074.5 527.8,1073.0 531.3,1071.2C534.8,1069.5 538.3,1067.5 541.8,1065.6C545.3,1063.8 548.9,1061.9 552.4,1060.0C555.9,1058.1 559.4,1055.9 562.9,1054.1C566.4,1052.2 569.9,1050.7 573.4,1048.8C576.9,1046.9 580.4,1044.7 583.9,1042.9C587.4,1041.0 590.9,1039.5 594.4,1037.6C597.9,1035.7 601.4,1033.3 604.9,1031.3C608.4,1029.2 611.9,1027.1 615.4,1025.3C618.9,1023.6 622.4,1021.9 625.9,1020.8C629.4,1019.6 632.9,1019.0 636.4,1018.3C640.0,1017.6 643.5,1017.1 647.0,1016.6C650.5,1016.0 654.0,1015.4 657.5,1015.2C661.0,1014.9 664.5,1014.9 668.0,1015.2C671.5,1015.4 675.0,1016.0 678.5,1016.6C682.0,1017.2 685.5,1017.9 689.0,1018.7C692.5,1019.5 697.7,1020.8 699.5,1021.5C701.3,1022.1 698.2,1022.5 700.0,1022.5C701.8,1022.6 707.0,1021.8 710.5,1021.8C714.0,1021.8 717.5,1022.1 721.0,1022.5C724.5,1023.0 727.4,1023.9 731.5,1024.6C735.6,1025.4 740.9,1026.4 745.6,1027.1C750.2,1027.8 754.9,1028.5 759.6,1028.8C764.2,1029.2 768.9,1029.2 773.6,1029.2C778.3,1029.2 783.5,1029.1 787.6,1028.8C791.7,1028.5 794.6,1028.4 798.1,1027.4C801.6,1026.4 804.5,1024.5 808.6,1022.9C812.7,1021.3 817.4,1019.7 822.6,1018.0C827.9,1016.2 834.3,1014.4 840.2,1012.4C846.0,1010.4 851.8,1008.3 857.7,1006.1C863.5,1003.8 869.4,1001.3 875.2,999.1C881.0,996.8 886.9,994.5 892.7,992.7C898.6,991.0 905.0,989.7 910.2,988.5C915.5,987.4 920.2,986.3 924.2,985.7C928.3,985.2 931.3,984.9 934.8,985.0C938.3,985.2 941.2,985.7 945.3,986.4C949.4,987.1 954.0,988.1 959.3,989.2C964.5,990.4 971.0,991.9 976.8,993.4C982.6,995.0 988.5,996.6 994.3,998.7C1000.2,1000.8 1006.0,1003.4 1011.8,1006.1C1017.7,1008.7 1023.5,1011.6 1029.4,1014.8C1035.2,1018.0 1041.0,1021.8 1046.9,1025.3C1052.7,1028.8 1059.1,1032.5 1064.4,1035.8C1069.7,1039.2 1073.7,1042.3 1078.4,1045.3C1083.1,1048.3 1087.8,1051.3 1092.4,1054.1C1097.1,1056.9 1101.8,1059.1 1106.4,1062.1C1111.1,1065.1 1115.8,1068.5 1120.5,1071.9C1125.1,1075.3 1129.8,1078.8 1134.5,1082.4C1139.1,1086.1 1143.8,1090.0 1148.5,1093.7C1153.2,1097.3 1157.8,1100.8 1162.5,1104.2C1167.2,1107.6 1172.1,1110.9 1176.5,1114.0C1180.9,1117.1 1184.9,1120.4 1188.8,1122.7C1192.7,1125.1 1196.4,1125.8 1200.0,1128.0C1203.6,1130.2 1207.0,1133.4 1210.5,1135.7C1214.0,1138.0 1216.9,1139.6 1221.0,1141.7C1225.1,1143.7 1230.4,1146.2 1235.0,1148.0C1239.7,1149.8 1244.4,1151.1 1249.1,1152.5C1253.7,1154.0 1258.4,1155.3 1263.1,1156.7C1267.7,1158.2 1272.4,1160.2 1277.1,1161.3C1281.8,1162.3 1286.4,1162.7 1291.1,1163.0C1295.8,1163.3 1299.9,1163.2 1305.1,1163.0C1310.4,1162.9 1316.8,1162.2 1322.6,1162.0C1328.5,1161.7 1334.3,1161.7 1340.2,1161.6C1346.0,1161.5 1352.4,1161.6 1357.7,1161.3C1362.9,1160.9 1367.0,1160.6 1371.7,1159.5C1376.4,1158.5 1381.0,1156.7 1385.7,1155.0C1390.4,1153.2 1395.0,1151.1 1399.7,1149.0C1404.4,1147.0 1409.1,1144.9 1413.7,1142.7C1418.4,1140.5 1423.1,1138.2 1427.8,1135.7C1432.4,1133.3 1437.1,1130.9 1441.8,1128.0C1446.4,1125.1 1451.1,1121.3 1455.8,1118.2C1460.5,1115.1 1465.1,1111.9 1469.8,1109.4C1474.5,1106.9 1479.1,1105.0 1483.8,1103.1C1488.5,1101.2 1493.2,1100.1 1497.8,1098.2C1502.5,1096.3 1507.2,1094.0 1511.8,1091.9C1516.5,1089.8 1521.2,1087.8 1525.9,1085.6C1530.5,1083.4 1535.2,1081.0 1539.9,1078.9C1544.5,1076.9 1549.2,1075.1 1553.9,1073.3C1558.6,1071.6 1563.2,1069.8 1567.9,1068.4C1572.6,1067.0 1577.8,1065.8 1581.9,1064.9C1586.0,1064.1 1588.3,1063.8 1592.4,1063.2C1596.5,1062.6 1601.8,1062.3 1606.4,1061.4C1611.1,1060.5 1615.8,1059.4 1620.5,1057.9C1625.1,1056.5 1629.8,1054.8 1634.5,1052.7C1639.1,1050.6 1643.8,1047.8 1648.5,1045.3C1653.2,1042.8 1657.8,1040.2 1662.5,1037.6C1667.2,1035.0 1672.1,1031.9 1676.5,1029.9C1680.9,1027.8 1683.5,1026.6 1688.8,1025.3C1694.0,1024.1 1702.5,1023.5 1708.0,1022.5C1713.6,1021.5 1717.4,1020.4 1722.0,1019.4C1726.7,1018.4 1731.4,1017.4 1736.1,1016.6C1740.7,1015.7 1745.4,1014.6 1750.1,1014.1C1754.7,1013.7 1759.4,1013.7 1764.1,1013.8C1768.8,1013.9 1773.7,1014.2 1778.1,1014.8C1782.5,1015.5 1786.6,1016.6 1790.4,1017.6C1794.2,1018.6 1797.4,1020.4 1800.9,1020.8C1804.4,1021.2 1808.2,1020.0 1811.4,1020.1C1814.6,1020.1 1816.4,1020.4 1820.2,1021.1C1824.0,1021.9 1829.5,1023.2 1834.2,1024.6C1838.8,1026.0 1843.5,1027.8 1848.2,1029.5C1852.9,1031.2 1857.5,1033.0 1862.2,1034.8C1866.9,1036.5 1871.5,1038.3 1876.2,1040.0C1880.9,1041.8 1885.6,1043.5 1890.2,1045.3C1894.9,1047.1 1899.6,1049.1 1904.2,1050.9C1908.9,1052.7 1913.6,1054.4 1918.3,1056.2C1922.9,1057.9 1927.6,1059.7 1932.3,1061.4C1936.9,1063.2 1941.6,1064.9 1946.3,1066.7C1951.0,1068.4 1955.6,1070.2 1960.3,1071.9C1965.0,1073.7 1969.7,1075.8 1974.3,1077.2C1979.0,1078.6 1983.7,1079.2 1988.3,1080.3C1993.0,1081.5 1998.3,1083.0 2002.4,1084.2C2006.4,1085.4 2008.8,1085.9 2012.9,1087.7C2017.0,1089.5 2022.2,1092.3 2026.9,1094.7C2031.6,1097.2 2036.2,1099.6 2040.9,1102.4C2045.6,1105.3 2050.2,1108.5 2054.9,1111.9C2059.6,1115.3 2064.3,1119.2 2068.9,1122.7C2073.6,1126.3 2078.3,1129.7 2082.9,1133.3C2087.6,1136.8 2092.3,1140.3 2097.0,1143.8C2101.6,1147.3 2106.3,1150.9 2111.0,1154.3C2115.6,1157.6 2120.3,1160.9 2125.0,1163.7C2129.7,1166.6 2134.3,1169.1 2139.0,1171.4C2143.7,1173.8 2147.5,1175.5 2153.0,1177.8C2158.6,1180.0 2169.1,1183.6 2172.3,1184.8" fill="none" stroke="#1a1a1a" stroke-width="3.2" stroke-linejoin="round" stroke-linecap="round"/>
<path d="M234.3,1250.4v-12M234.3,955.2v12M435.0,1250.4v-12M435.0,955.2v12M635.7,1250.4v-12M635.7,955.2v12M836.3,1250.4v-12M836.3,955.2v12M1037.0,1250.4v-12M1037.0,955.2v12M1237.7,1250.4v-12M1237.7,955.2v12M1438.4,1250.4v-12M1438.4,955.2v12M1639.1,1250.4v-12M1639.1,955.2v12M1839.7,1250.4v-12M1839.7,955.2v12M2040.4,1250.4v-12M2040.4,955.2v12M234.3,1250.4h12M2173.0,1250.4h-12M234.3,1102.8h12M2173.0,1102.8h-12M234.3,955.2h12M2173.0,955.2h-12" stroke="#262626" stroke-opacity="0.75" stroke-width="2" fill="none"/>
<rect x="234.3" y="955.2" width="1938.7" height="295.2" fill="none" stroke="#262626" stroke-width="2.2"/>
<text x="419.4" y="1115.7" font-family="'Liberation Sans', Arial, Helvetica, sans-serif" font-size="54" fill="#ffffff" text-anchor="middle">3</text>
<text x="840.3" y="1115.7" font-family="'Liberation Sans', Arial, Helvetica, sans-serif" font-size="54" fill="#ffffff" text-anchor="middle">0</text>
<text x="1155.7" y="1115.7" font-family="'Liberation Sans', Arial, Helvetica, sans-serif" font-size="54" fill="#ffffff" text-anchor="middle" stroke="#ffffff" stroke-width="0.6">4</text>
<text x="1416.3" y="1115.7" font-family="'Liberation Sans', Arial, Helvetica, sans-serif" font-size="54" fill="#ffffff" text-anchor="middle">1</text>
<text x="1812.1" y="1115.7" font-family="'Liberation Sans', Arial, Helvetica, sans-serif" font-size="54" fill="#ffffff" text-anchor="middle">0</text>
<text x="2099.4" y="1115.7" font-family="'Liberation Sans', Arial, Helvetica, sans-serif" font-size="54" fill="#ffffff" text-anchor="middle" stroke="#ffffff" stroke-width="0.6">4</text>
<text x="232.3" y="1295.8" font-family="'Liberation Sans', Arial, Helvetica, sans-serif" font-size="42" fill="#262626" text-anchor="middle">0</text>
<text x="435.0" y="1295.8" font-family="'Liberation Sans', Arial, Helvetica, sans-serif" font-size="42" fill="#262626" text-anchor="middle">5</text>
<text x="635.7" y="1295.8" font-family="'Liberation Sans', Arial, Helvetica, sans-serif" font-size="42" fill="#262626" text-anchor="middle">10</text>
<text x="836.3" y="1295.8" font-family="'Liberation Sans', Arial, Helvetica, sans-serif" font-size="42" fill="#262626" text-anchor="middle">15</text>
<text x="1037.0" y="1295.8" font-family="'Liberation Sans', Arial, Helvetica, sans-serif" font-size="42" fill="#262626" text-anchor="middle">20</text>
<text x="1237.7" y="1295.8" font-family="'Liberation Sans', Arial, Helvetica, sans-serif" font-size="42" fill="#262626" text-anchor="middle">25</text>
<text x="1438.4" y="1295.8" font-family="'Liberation Sans', Arial, Helvetica, sans-serif" font-size="42" fill="#262626" text-anchor="middle">30</text>
<text x="1639.1" y="1295.8" font-family="'Liberation Sans', Arial, Helvetica, sans-serif" font-size="42" fill="#262626" text-anchor="middle">35</text>
<text x="1839.7" y="1295.8" font-family="'Liberation Sans', Arial, Helvetica, sans-serif" font-size="42" fill="#262626" text-anchor="middle">40</text>
<text x="2040.4" y="1295.8" font-family="'Liberation Sans', Arial, Helvetica, sans-serif" font-size="42" fill="#262626" text-anchor="middle">45</text>
<text x="217.6" y="1271.6" font-family="'Liberation Sans', Arial, Helvetica, sans-serif" font-size="42" fill="#262626" text-anchor="end">0</text>
<text x="223.3" y="1124.0" font-family="'Liberation Sans', Arial, Helvetica, sans-serif" font-size="42" fill="#262626" text-anchor="end">10</text>
<text x="223.3" y="976.4" font-family="'Liberation Sans', Arial, Helvetica, sans-serif" font-size="42" fill="#262626" text-anchor="end">20</text>
<text transform="translate(83.1,1115.7) rotate(-90)" x="0" y="0" font-family="'Liberation Sans', Arial, Helvetica, sans-serif" font-size="53.5" fill="#262626" text-anchor="middle">Gap</text>
<text transform="translate(147.2,1115.2) rotate(-90)" x="0" y="0" font-family="'Liberation Sans', Arial, Helvetica, sans-serif" font-size="53.5" fill="#262626" text-anchor="middle">(m)</text>
</g>
<g id="a4">
<rect x="234.3" y="1365.8" width="361.3" height="295.2" fill="#a8c9dc"/>
<rect x="595.6" y="1365.8" width="482.2" height="295.2" fill="#fbe3b4"/>
<rect x="1077.8" y="1365.8" width="144.1" height="295.2" fill="#00b9c7"/>
<rect x="1221.9" y="1365.8" width="368.6" height="295.2" fill="#febdc4"/>
<rect x="1590.5" y="1365.8" width="421.6" height="295.2" fill="#fbe3b4"/>
<rect x="2012.1" y="1365.8" width="160.9" height="295.2" fill="#00b9c7"/>
<clipPath id="clip_a4"><rect x="234.3" y="1365.8" width="1938.7" height="295.2"/></clipPath>
<path clip-path="url(#clip_a4)" d="M239.8,1457.4C241.1,1457.4 244.8,1457.6 247.5,1457.4C250.3,1457.2 253.4,1457.4 256.3,1456.4C259.2,1455.3 262.1,1452.7 265.0,1451.1C268.0,1449.5 270.9,1447.7 273.8,1446.5C276.7,1445.4 279.3,1444.5 282.6,1444.1C285.8,1443.7 289.9,1444.4 293.1,1444.1C296.3,1443.8 299.2,1442.3 301.8,1442.3C304.5,1442.3 306.5,1444.1 308.8,1444.1C311.2,1444.1 313.5,1443.2 315.8,1442.3C318.2,1441.5 320.2,1440.1 322.9,1439.2C325.5,1438.3 328.7,1437.7 331.6,1437.1C334.5,1436.5 337.2,1435.5 340.4,1435.7C343.6,1435.9 347.1,1437.6 350.9,1438.1C354.7,1438.7 359.4,1439.2 363.1,1438.8C366.9,1438.5 370.2,1436.7 373.7,1436.0C377.2,1435.3 380.1,1435.0 384.2,1434.6C388.3,1434.3 393.2,1434.0 398.2,1433.9C403.1,1433.9 409.9,1433.6 414.0,1434.3C418.0,1434.9 419.5,1436.9 422.7,1437.8C425.9,1438.7 429.7,1439.4 433.2,1439.9C436.7,1440.4 440.8,1440.6 443.7,1440.9C446.7,1441.2 447.8,1441.9 450.7,1441.6C453.7,1441.3 457.8,1440.4 461.3,1439.2C464.8,1438.0 468.3,1436.3 471.8,1434.6C475.3,1433.0 478.8,1431.0 482.3,1429.4C485.8,1427.7 489.3,1426.3 492.8,1424.8C496.3,1423.3 499.8,1421.4 503.3,1420.3C506.8,1419.1 509.7,1418.2 513.8,1417.8C517.9,1417.4 523.7,1417.5 527.8,1417.8C531.9,1418.1 534.8,1419.2 538.3,1419.6C541.8,1420.0 545.6,1420.3 548.9,1420.3C552.1,1420.3 554.7,1420.1 557.6,1419.6C560.5,1419.0 563.2,1417.8 566.4,1417.1C569.6,1416.4 573.4,1415.9 576.9,1415.4C580.4,1414.8 583.6,1414.3 587.4,1414.0C591.2,1413.7 596.2,1413.1 599.7,1413.6C603.2,1414.1 605.5,1415.3 608.4,1416.8C611.3,1418.2 614.3,1419.9 617.2,1422.4C620.1,1424.9 623.0,1428.3 625.9,1431.8C628.9,1435.3 631.8,1439.5 634.7,1443.4C637.6,1447.3 640.2,1451.4 643.5,1455.3C646.7,1459.2 650.5,1462.3 654.0,1466.9C657.5,1471.4 661.3,1477.5 664.5,1482.6C667.7,1487.8 670.3,1493.0 673.2,1497.7C676.2,1502.4 678.8,1506.6 682.0,1510.7C685.2,1514.7 689.5,1519.0 692.5,1521.9C695.5,1524.8 697.6,1526.7 700.0,1528.2C702.4,1529.6 704.1,1530.1 707.0,1530.6C709.9,1531.2 713.4,1530.6 717.5,1531.7C721.6,1532.7 726.9,1536.2 731.5,1536.9C736.2,1537.7 741.5,1536.9 745.6,1536.2C749.6,1535.5 752.6,1534.7 756.1,1532.7C759.6,1530.8 763.1,1527.6 766.6,1524.7C770.1,1521.8 773.6,1518.4 777.1,1515.2C780.6,1512.1 784.1,1508.9 787.6,1505.8C791.1,1502.7 794.6,1500.4 798.1,1496.7C801.6,1492.9 805.1,1487.2 808.6,1483.3C812.1,1479.4 815.6,1476.0 819.1,1473.2C822.6,1470.3 826.1,1468.5 829.6,1466.2C833.1,1463.8 836.7,1461.4 840.2,1459.2C843.7,1456.9 847.2,1454.9 850.7,1452.9C854.2,1450.8 857.7,1448.8 861.2,1446.9C864.7,1445.0 868.5,1442.5 871.7,1441.3C874.9,1440.1 876.9,1439.7 880.4,1439.5C884.0,1439.4 888.9,1439.8 892.7,1440.6C896.5,1441.3 899.7,1442.9 903.2,1444.1C906.7,1445.3 910.8,1446.1 913.7,1447.6C916.7,1449.1 918.4,1449.9 920.7,1452.9C923.1,1455.8 925.4,1460.7 927.8,1465.1C930.1,1469.5 932.4,1474.5 934.8,1479.1C937.1,1483.8 939.4,1488.5 941.8,1493.1C944.1,1497.8 946.4,1502.6 948.8,1507.2C951.1,1511.7 953.4,1516.7 955.8,1520.5C958.1,1524.3 960.2,1527.2 962.8,1529.9C965.4,1532.7 968.6,1534.8 971.5,1536.9C974.5,1539.1 977.4,1540.7 980.3,1542.9C983.2,1545.1 986.1,1547.2 989.1,1549.9C992.0,1552.6 994.9,1555.8 997.8,1559.0C1000.7,1562.2 1003.7,1565.7 1006.6,1569.2C1009.5,1572.6 1012.1,1576.0 1015.3,1579.7C1018.6,1583.4 1022.4,1587.6 1025.9,1591.3C1029.4,1594.9 1032.9,1598.4 1036.4,1601.8C1039.9,1605.1 1043.4,1608.0 1046.9,1611.2C1050.4,1614.4 1053.9,1618.1 1057.4,1621.0C1060.9,1624.0 1064.4,1626.9 1067.9,1629.1C1071.4,1631.3 1074.9,1633.1 1078.4,1634.4C1081.9,1635.6 1084.8,1636.1 1088.9,1636.8C1093.0,1637.5 1098.3,1638.1 1102.9,1638.6C1107.6,1639.0 1113.2,1639.3 1117.0,1639.3C1120.8,1639.3 1122.8,1637.9 1125.7,1638.6C1128.6,1639.2 1131.6,1641.2 1134.5,1643.1C1137.4,1645.0 1140.3,1647.4 1143.2,1649.8C1146.2,1652.1 1148.8,1655.3 1152.0,1657.1C1155.2,1658.9 1159.6,1660.5 1162.5,1660.6C1165.4,1660.7 1166.9,1659.9 1169.5,1657.8C1172.1,1655.8 1175.1,1651.9 1178.3,1648.4C1181.5,1644.9 1185.2,1640.8 1188.8,1636.8C1192.4,1632.8 1196.4,1628.3 1200.0,1624.5C1203.6,1620.7 1207.0,1617.4 1210.5,1614.0C1214.0,1610.7 1217.5,1607.5 1221.0,1604.6C1224.5,1601.6 1228.0,1599.6 1231.5,1596.5C1235.0,1593.4 1238.5,1589.5 1242.0,1586.0C1245.6,1582.5 1249.1,1579.0 1252.6,1575.5C1256.1,1572.0 1259.6,1567.9 1263.1,1565.0C1266.6,1562.1 1270.1,1560.6 1273.6,1558.0C1277.1,1555.3 1280.6,1552.5 1284.1,1549.2C1287.6,1545.9 1291.1,1541.8 1294.6,1538.0C1298.1,1534.2 1301.6,1530.4 1305.1,1526.4C1308.6,1522.5 1312.4,1517.0 1315.6,1514.2C1318.8,1511.4 1321.5,1510.5 1324.4,1509.6C1327.3,1508.7 1329.9,1508.7 1333.1,1508.9C1336.4,1509.1 1340.4,1511.0 1343.7,1510.7C1346.9,1510.4 1349.5,1508.8 1352.4,1507.2C1355.3,1505.5 1358.0,1503.8 1361.2,1500.9C1364.4,1497.9 1368.2,1493.7 1371.7,1489.6C1375.2,1485.6 1378.7,1480.8 1382.2,1476.7C1385.7,1472.6 1389.2,1469.3 1392.7,1465.1C1396.2,1461.0 1399.7,1456.2 1403.2,1451.8C1406.7,1447.4 1410.2,1442.5 1413.7,1438.8C1417.2,1435.2 1420.7,1433.4 1424.2,1430.1C1427.8,1426.7 1431.3,1422.5 1434.8,1418.9C1438.3,1415.2 1442.1,1411.4 1445.3,1408.0C1448.5,1404.6 1451.4,1400.6 1454.0,1398.5C1456.7,1396.5 1458.4,1395.6 1461.0,1395.7C1463.7,1395.9 1466.9,1397.0 1469.8,1399.2C1472.7,1401.5 1475.6,1405.4 1478.6,1409.1C1481.5,1412.7 1484.4,1417.8 1487.3,1421.3C1490.2,1424.8 1493.2,1428.0 1496.1,1430.1C1499.0,1432.1 1501.9,1433.3 1504.8,1433.6C1507.8,1433.9 1510.7,1432.8 1513.6,1431.8C1516.5,1430.8 1519.4,1428.6 1522.4,1427.6C1525.3,1426.6 1527.9,1426.0 1531.1,1425.9C1534.3,1425.7 1538.1,1425.9 1541.6,1426.6C1545.1,1427.3 1548.9,1428.3 1552.1,1430.1C1555.3,1431.8 1557.7,1434.5 1560.9,1437.1C1564.1,1439.7 1568.2,1442.9 1571.4,1445.8C1574.6,1448.8 1577.0,1451.5 1580.2,1454.6C1583.4,1457.7 1587.2,1462.1 1590.7,1464.4C1594.2,1466.8 1597.7,1468.2 1601.2,1468.6C1604.7,1469.0 1608.2,1468.0 1611.7,1466.9C1615.2,1465.7 1618.4,1463.7 1622.2,1461.6C1626.0,1459.6 1630.7,1456.8 1634.5,1454.6C1638.3,1452.4 1641.5,1451.0 1645.0,1448.6C1648.5,1446.3 1651.7,1443.0 1655.5,1440.6C1659.3,1438.2 1664.3,1435.0 1667.8,1434.3C1671.3,1433.6 1673.6,1434.6 1676.5,1436.4C1679.4,1438.2 1682.7,1442.2 1685.3,1445.1C1687.9,1448.1 1688.5,1451.5 1692.3,1453.9C1696.1,1456.4 1703.1,1458.4 1708.0,1459.9C1713.0,1461.3 1717.7,1461.6 1722.0,1462.7C1726.4,1463.7 1730.2,1464.9 1734.3,1466.2C1738.4,1467.5 1743.1,1467.9 1746.6,1470.4C1750.1,1472.8 1752.4,1476.7 1755.3,1480.9C1758.3,1485.1 1761.2,1491.2 1764.1,1495.6C1767.0,1500.0 1769.6,1503.5 1772.9,1507.2C1776.1,1510.8 1780.2,1514.5 1783.4,1517.7C1786.6,1520.9 1789.2,1523.9 1792.1,1526.4C1795.0,1528.9 1798.0,1532.0 1800.9,1532.7C1803.8,1533.4 1806.7,1531.4 1809.6,1530.6C1812.6,1529.9 1815.5,1527.7 1818.4,1528.2C1821.3,1528.7 1824.0,1531.4 1827.2,1533.4C1830.4,1535.5 1834.2,1537.6 1837.7,1540.4C1841.2,1543.3 1844.7,1547.5 1848.2,1550.3C1851.7,1553.0 1854.9,1555.2 1858.7,1556.9C1862.5,1558.7 1866.9,1559.8 1871.0,1560.8C1875.0,1561.7 1879.4,1562.1 1883.2,1562.5C1887.0,1562.9 1890.2,1562.5 1893.7,1563.2C1897.2,1563.9 1900.2,1565.7 1904.2,1566.7C1908.3,1567.8 1913.6,1569.1 1918.3,1569.5C1922.9,1570.0 1927.6,1569.4 1932.3,1569.5C1936.9,1569.6 1941.6,1570.1 1946.3,1570.2C1951.0,1570.3 1955.3,1570.2 1960.3,1570.2C1965.3,1570.2 1971.4,1570.2 1976.1,1570.2C1980.7,1570.2 1984.5,1569.8 1988.3,1570.2C1992.1,1570.7 1995.3,1571.7 1998.9,1573.0C2002.4,1574.3 2005.6,1575.8 2009.4,1577.9C2013.2,1580.1 2017.5,1583.5 2021.6,1586.0C2025.7,1588.5 2029.8,1590.4 2033.9,1593.0C2038.0,1595.6 2042.4,1598.3 2046.2,1601.8C2049.9,1605.3 2053.2,1609.9 2056.7,1614.0C2060.2,1618.1 2063.7,1622.8 2067.2,1626.3C2070.7,1629.8 2074.2,1632.5 2077.7,1635.1C2081.2,1637.6 2084.7,1639.9 2088.2,1641.4C2091.7,1642.8 2094.9,1643.6 2098.7,1643.8C2102.5,1644.0 2106.9,1642.7 2111.0,1642.4C2115.1,1642.1 2119.1,1642.4 2123.2,1642.1C2127.3,1641.7 2131.7,1641.8 2135.5,1640.3C2139.3,1638.8 2142.5,1636.2 2146.0,1633.3C2149.5,1630.4 2153.3,1626.0 2156.5,1622.8C2159.7,1619.6 2162.7,1616.4 2165.3,1614.0C2167.9,1611.7 2171.1,1609.6 2172.3,1608.8" fill="none" stroke="#1a1a1a" stroke-width="3.2" stroke-linejoin="round" stroke-linecap="round"/>
<path d="M234.3,1661.0v-12M234.3,1365.8v12M435.0,1661.0v-12M435.0,1365.8v12M635.7,1661.0v-12M635.7,1365.8v12M836.3,1661.0v-12M836.3,1365.8v12M1037.0,1661.0v-12M1037.0,1365.8v12M1237.7,1661.0v-12M1237.7,1365.8v12M1438.4,1661.0v-12M1438.4,1365.8v12M1639.1,1661.0v-12M1639.1,1365.8v12M1839.7,1661.0v-12M1839.7,1365.8v12M2040.4,1661.0v-12M2040.4,1365.8v12M234.3,1648.3h12M2173.0,1648.3h-12M234.3,1507.0h12M2173.0,1507.0h-12M234.3,1365.7h12M2173.0,1365.7h-12" stroke="#262626" stroke-opacity="0.75" stroke-width="2" fill="none"/>
<rect x="234.3" y="1365.8" width="1938.7" height="295.2" fill="none" stroke="#262626" stroke-width="2.2"/>
<text x="419.4" y="1528.5" font-family="'Liberation Sans', Arial, Helvetica, sans-serif" font-size="54" fill="#ffffff" text-anchor="middle">3</text>
<text x="840.3" y="1528.5" font-family="'Liberation Sans', Arial, Helvetica, sans-serif" font-size="54" fill="#ffffff" text-anchor="middle">0</text>
<text x="1155.7" y="1528.5" font-family="'Liberation Sans', Arial, Helvetica, sans-serif" font-size="54" fill="#ffffff" text-anchor="middle" stroke="#ffffff" stroke-width="0.6">4</text>
<text x="1416.3" y="1528.5" font-family="'Liberation Sans', Arial, Helvetica, sans-serif" font-size="54" fill="#ffffff" text-anchor="middle">1</text>
<text x="1812.1" y="1528.5" font-family="'Liberation Sans', Arial, Helvetica, sans-serif" font-size="54" fill="#ffffff" text-anchor="middle">0</text>
<text x="2099.4" y="1528.5" font-family="'Liberation Sans', Arial, Helvetica, sans-serif" font-size="54" fill="#ffffff" text-anchor="middle" stroke="#ffffff" stroke-width="0.6">4</text>
<text x="232.3" y="1706.7" font-family="'Liberation Sans', Arial, Helvetica, sans-serif" font-size="42" fill="#262626" text-anchor="middle">0</text>
<text x="435.0" y="1706.7" font-family="'Liberation Sans', Arial, Helvetica, sans-serif" font-size="42" fill="#262626" text-anchor="middle">5</text>
<text x="635.7" y="1706.7" font-family="'Liberation Sans', Arial, Helvetica, sans-serif" font-size="42" fill="#262626" text-anchor="middle">10</text>
<text x="836.3" y="1706.7" font-family="'Liberation Sans', Arial, Helvetica, sans-serif" font-size="42" fill="#262626" text-anchor="middle">15</text>
<text x="1037.0" y="1706.7" font-family="'Liberation Sans', Arial, Helvetica, sans-serif" font-size="42" fill="#262626" text-anchor="middle">20</text>
<text x="1237.7" y="1706.7" font-family="'Liberation Sans', Arial, Helvetica, sans-serif" font-size="42" fill="#262626" text-anchor="middle">25</text>
<text x="1438.4" y="1706.7" font-family="'Liberation Sans', Arial, Helvetica, sans-serif" font-size="42" fill="#262626" text-anchor="middle">30</text>
<text x="1639.1" y="1706.7" font-family="'Liberation Sans', Arial, Helvetica, sans-serif" font-size="42" fill="#262626" text-anchor="middle">35</text>
<text x="1839.7" y="1706.7" font-family="'Liberation Sans', Arial, Helvetica, sans-serif" font-size="42" fill="#262626" text-anchor="middle">40</text>
<text x="2040.4" y="1706.7" font-family="'Liberation Sans', Arial, Helvetica, sans-serif" font-size="42" fill="#262626" text-anchor="middle">45</text>
<text x="217.6" y="1685.7" font-family="'Liberation Sans', Arial, Helvetica, sans-serif" font-size="42" fill="#262626" text-anchor="end">−2</text>
<text x="217.6" y="1525.0" font-family="'Liberation Sans', Arial, Helvetica, sans-serif" font-size="42" fill="#262626" text-anchor="end">0</text>
<text x="217.6" y="1383.7" font-family="'Liberation Sans', Arial, Helvetica, sans-serif" font-size="42" fill="#262626" text-anchor="end">2</text>
<text transform="translate(83.1,1516.5) rotate(-90)" x="0" y="0" font-family="'Liberation Sans', Arial, Helvetica, sans-serif" font-size="53.5" fill="#262626" text-anchor="middle">Velocity Diff</text>
<text transform="translate(147.2,1517.3) rotate(-90)" x="0" y="0" font-family="'Liberation Sans', Arial, Helvetica, sans-serif" font-size="53.5" fill="#262626" text-anchor="middle">(m/s)</text>
</g>
<g id="b1">
<rect x="258.4" y="2232.7" width="1242" height="290.1" fill="#a8c9dc"/>
<rect x="1500.4" y="2232.7" width="668.1" height="290.1" fill="#7e8796"/>
<clipPath id="clip_b1"><rect x="258.4" y="2232.7" width="1910.1" height="290.1"/></clipPath>
<path clip-path="url(#clip_b1)" d="M265.8,2505.3C266.2,2504.8 270.0,2499.8 271.0,2499.0C272.0,2498.2 276.9,2496.4 278.0,2495.5C279.2,2494.6 283.7,2489.2 285.0,2487.8C286.4,2486.3 292.3,2479.2 293.8,2478.0C295.3,2476.8 301.4,2472.7 302.6,2473.1C303.7,2473.5 306.8,2480.4 307.8,2482.5C308.8,2484.6 313.7,2496.4 314.8,2498.3C316.0,2500.2 320.7,2505.4 321.8,2505.3C322.9,2505.2 326.8,2497.7 327.8,2497.6C328.8,2497.5 333.0,2503.1 334.1,2503.6C335.2,2504.0 340.1,2503.6 341.1,2502.5C342.1,2501.4 345.3,2491.8 346.4,2490.2C347.4,2488.7 352.3,2485.5 353.4,2484.3C354.4,2483.1 358.3,2476.1 359.3,2475.5C360.3,2475.0 364.5,2477.3 365.6,2478.0C366.7,2478.6 371.5,2482.2 372.6,2483.6C373.7,2485.0 377.9,2494.4 378.9,2494.8C380.0,2495.1 384.0,2488.5 384.9,2487.8C385.8,2487.1 389.1,2485.4 390.2,2486.0C391.2,2486.7 396.0,2495.4 397.2,2495.5C398.3,2495.6 403.0,2488.4 404.2,2487.1C405.3,2485.8 410.2,2481.4 411.2,2480.1C412.2,2478.7 415.5,2470.5 416.4,2471.0C417.4,2471.5 421.3,2484.7 422.4,2486.0C423.5,2487.4 428.1,2487.7 429.4,2487.1C430.7,2486.5 436.2,2479.9 437.5,2479.0C438.7,2478.1 443.4,2476.4 444.5,2476.2C445.5,2476.1 448.7,2476.6 449.7,2477.3C450.7,2477.9 455.6,2484.1 456.7,2484.3C457.9,2484.5 462.4,2481.4 463.7,2480.1C465.0,2478.8 471.2,2469.4 472.5,2468.5C473.8,2467.6 478.3,2468.3 479.5,2469.6C480.7,2470.9 485.3,2482.8 486.5,2484.3C487.7,2485.7 492.5,2487.0 493.5,2487.1C494.5,2487.1 497.9,2486.8 498.8,2485.0C499.6,2483.1 503.2,2466.5 504.0,2465.0C504.9,2463.6 508.3,2467.6 509.3,2467.5C510.3,2467.3 515.0,2464.6 516.3,2463.3C517.6,2461.9 523.9,2451.9 525.1,2451.0C526.2,2450.1 529.4,2450.7 530.3,2452.8C531.2,2454.8 534.5,2472.8 535.6,2475.5C536.6,2478.3 541.4,2486.2 542.6,2486.0C543.7,2485.9 548.6,2475.5 549.6,2473.8C550.6,2472.0 553.8,2466.1 554.8,2465.0C555.9,2463.9 560.8,2459.7 561.8,2460.5C562.9,2461.2 566.1,2472.2 567.1,2474.5C568.1,2476.8 572.9,2487.3 574.1,2487.8C575.3,2488.3 580.1,2481.7 581.1,2480.8C582.1,2479.9 585.5,2478.3 586.4,2477.3C587.2,2476.3 590.6,2470.0 591.6,2468.5C592.6,2467.0 597.6,2458.9 598.6,2459.1C599.7,2459.2 602.9,2467.9 603.9,2470.3C604.9,2472.6 609.7,2485.4 610.9,2487.1C612.1,2488.8 616.7,2491.7 617.9,2490.6C619.1,2489.5 623.8,2475.8 624.9,2473.8C626.0,2471.7 630.2,2466.0 631.2,2466.1C632.2,2466.1 636.1,2472.9 637.2,2474.5C638.3,2476.1 643.2,2484.1 644.2,2485.0C645.2,2485.9 648.4,2486.5 649.4,2485.0C650.5,2483.5 655.4,2469.5 656.4,2466.8C657.5,2464.0 661.4,2451.4 662.4,2451.7C663.4,2452.0 667.7,2468.3 668.7,2470.3C669.7,2472.3 673.4,2475.5 674.7,2475.5C676.0,2475.6 683.1,2471.1 684.5,2471.0C685.9,2470.9 690.3,2473.8 691.5,2474.5C692.7,2475.1 697.8,2478.5 698.5,2479.0C699.2,2479.6 699.3,2480.6 700.0,2480.8C700.7,2480.9 705.3,2482.7 706.3,2480.8C707.3,2478.9 711.3,2460.2 712.3,2458.0C713.3,2455.8 717.2,2453.8 718.2,2454.5C719.2,2455.2 723.4,2464.3 724.5,2466.8C725.6,2469.2 730.4,2483.3 731.5,2483.6C732.6,2483.9 736.8,2472.9 737.8,2470.3C738.9,2467.6 742.7,2452.9 743.8,2452.0C744.9,2451.2 749.6,2459.2 750.8,2460.5C752.0,2461.7 756.6,2465.2 757.8,2466.8C759.0,2468.3 763.8,2477.2 764.8,2479.0C765.8,2480.8 769.2,2487.6 770.1,2488.5C771.0,2489.4 774.3,2488.8 775.3,2489.5C776.4,2490.3 781.3,2498.3 782.3,2497.6C783.4,2496.9 786.6,2483.4 787.6,2480.8C788.6,2478.2 793.3,2468.5 794.6,2466.8C795.9,2465.1 801.9,2460.8 803.4,2460.5C804.8,2460.1 810.8,2462.6 812.1,2462.6C813.4,2462.6 818.0,2460.1 819.1,2460.5C820.3,2460.8 825.0,2465.8 826.1,2466.8C827.3,2467.7 832.0,2472.0 833.1,2472.0C834.3,2472.1 839.1,2468.4 840.2,2467.5C841.2,2466.5 844.5,2460.2 845.4,2460.5C846.3,2460.7 849.7,2467.5 850.7,2470.3C851.6,2473.1 856.0,2491.9 857.0,2494.1C858.0,2496.3 861.8,2496.4 862.9,2496.5C864.1,2496.7 869.5,2497.3 870.6,2495.8C871.8,2494.4 875.8,2482.5 876.9,2479.0C878.1,2475.6 882.9,2457.8 884.0,2454.5C885.0,2451.2 888.2,2440.2 889.2,2439.4C890.2,2438.7 894.4,2443.9 895.5,2445.7C896.6,2447.6 901.4,2458.9 902.5,2461.5C903.6,2464.1 907.5,2475.4 908.5,2477.3C909.4,2479.2 912.8,2485.1 913.7,2484.3C914.7,2483.5 918.9,2469.5 920.0,2467.8C921.2,2466.1 926.0,2462.9 927.0,2464.0C928.1,2465.0 931.9,2478.8 933.0,2480.1C934.1,2481.3 938.8,2479.5 940.0,2479.0C941.2,2478.6 946.0,2475.3 947.0,2474.5C948.0,2473.7 951.3,2470.0 952.3,2469.6C953.3,2469.1 958.3,2470.4 959.3,2469.2C960.3,2468.1 963.7,2454.9 964.5,2455.6C965.4,2456.2 968.8,2473.6 969.8,2477.3C970.8,2480.9 975.7,2498.1 976.8,2499.4C977.9,2500.6 982.1,2491.8 983.1,2492.0C984.1,2492.1 988.0,2502.5 989.1,2501.1C990.1,2499.7 994.9,2479.6 996.1,2475.5C997.2,2471.5 1002.0,2455.4 1003.1,2452.8C1004.2,2450.1 1008.0,2443.7 1009.0,2444.0C1010.1,2444.3 1014.4,2453.5 1015.3,2456.3C1016.3,2459.0 1019.6,2474.0 1020.6,2477.3C1021.6,2480.6 1026.4,2494.8 1027.6,2495.8C1028.8,2496.9 1033.6,2491.5 1034.6,2489.5C1035.6,2487.6 1038.9,2473.5 1039.9,2472.0C1040.9,2470.6 1045.9,2471.6 1046.9,2472.0C1047.9,2472.5 1051.1,2476.3 1052.1,2477.3C1053.2,2478.3 1058.0,2484.7 1059.1,2484.3C1060.3,2483.9 1065.1,2473.9 1066.2,2472.7C1067.2,2471.6 1070.4,2469.9 1071.4,2470.3C1072.4,2470.6 1077.2,2476.8 1078.4,2477.3C1079.6,2477.7 1084.4,2476.5 1085.4,2475.5C1086.4,2474.6 1089.8,2467.4 1090.7,2466.1C1091.6,2464.8 1095.1,2460.0 1095.9,2459.8C1096.8,2459.5 1100.2,2461.7 1101.2,2463.3C1102.2,2464.9 1107.0,2476.6 1108.2,2479.0C1109.4,2481.4 1114.2,2491.0 1115.2,2492.0C1116.2,2493.0 1119.6,2492.5 1120.5,2491.3C1121.3,2490.1 1124.6,2479.3 1125.7,2477.3C1126.9,2475.2 1133.3,2466.8 1134.5,2466.8C1135.6,2466.7 1138.7,2476.4 1139.7,2476.6C1140.8,2476.7 1145.6,2469.0 1146.7,2468.5C1147.9,2468.1 1152.7,2470.2 1153.7,2471.0C1154.8,2471.8 1158.0,2476.7 1159.0,2478.0C1160.0,2479.2 1165.0,2486.3 1166.0,2486.0C1167.0,2485.7 1170.2,2476.4 1171.3,2474.5C1172.3,2472.5 1177.1,2463.1 1178.3,2462.6C1179.4,2462.1 1184.1,2467.3 1185.3,2468.5C1186.5,2469.7 1191.1,2476.0 1192.3,2477.3C1193.5,2478.6 1198.8,2484.1 1200.0,2484.3C1201.2,2484.4 1205.7,2479.8 1207.0,2479.0C1208.3,2478.2 1214.5,2475.5 1215.8,2474.5C1217.1,2473.5 1221.6,2467.0 1222.8,2466.8C1223.9,2466.6 1228.6,2471.1 1229.8,2472.0C1231.0,2472.9 1235.6,2476.5 1236.8,2477.3C1238.0,2478.1 1242.8,2480.7 1243.8,2481.5C1244.8,2482.3 1248.2,2486.8 1249.1,2487.1C1249.9,2487.4 1253.3,2486.4 1254.3,2485.0C1255.3,2483.6 1260.2,2472.6 1261.3,2470.3C1262.4,2467.9 1266.3,2457.8 1267.3,2457.0C1268.3,2456.1 1272.5,2458.8 1273.6,2460.5C1274.7,2462.1 1279.4,2474.7 1280.6,2476.6C1281.8,2478.4 1286.3,2482.1 1287.6,2482.5C1288.9,2483.0 1295.0,2482.3 1296.4,2481.8C1297.7,2481.3 1302.2,2476.4 1303.4,2476.6C1304.5,2476.8 1309.2,2484.2 1310.4,2484.3C1311.5,2484.4 1316.2,2478.0 1317.4,2478.0C1318.5,2478.0 1323.2,2483.4 1324.4,2484.3C1325.6,2485.2 1330.2,2488.6 1331.4,2488.5C1332.6,2488.3 1337.4,2483.7 1338.4,2482.5C1339.4,2481.4 1342.6,2475.4 1343.7,2474.5C1344.7,2473.6 1349.5,2472.1 1350.7,2472.0C1351.8,2472.0 1356.2,2472.7 1357.7,2473.8C1359.1,2474.9 1366.7,2484.9 1368.2,2485.0C1369.6,2485.0 1374.2,2476.2 1375.2,2474.5C1376.2,2472.7 1379.4,2465.3 1380.4,2464.0C1381.5,2462.6 1386.6,2461.6 1387.5,2458.0C1388.3,2454.4 1390.5,2426.8 1391.0,2421.2C1391.4,2415.7 1392.3,2393.3 1392.7,2391.4C1393.1,2389.5 1395.5,2397.1 1396.2,2398.4C1396.9,2399.8 1400.4,2406.4 1401.5,2407.2C1402.5,2408.0 1407.5,2408.3 1408.5,2407.9C1409.5,2407.5 1412.9,2403.5 1413.7,2401.9C1414.6,2400.4 1418.1,2392.9 1419.0,2389.7C1419.9,2386.5 1423.4,2368.4 1424.2,2363.4C1425.1,2358.4 1428.6,2333.6 1429.5,2330.1C1430.4,2326.6 1433.7,2323.1 1434.8,2321.4C1435.8,2319.6 1440.6,2311.1 1441.8,2309.1C1442.9,2307.0 1447.6,2298.9 1448.8,2296.8C1449.9,2294.8 1454.8,2287.2 1455.8,2284.6C1456.8,2281.9 1460.4,2267.9 1461.0,2265.3C1461.7,2262.7 1462.8,2253.8 1463.5,2253.0C1464.2,2252.3 1468.3,2257.6 1469.1,2256.5C1469.9,2255.5 1472.7,2243.0 1473.3,2240.8C1473.9,2238.6 1475.1,2231.1 1476.1,2230.3C1477.1,2229.4 1484.2,2230.0 1485.6,2230.3C1486.9,2230.5 1491.6,2232.2 1492.6,2233.8C1493.5,2235.4 1496.4,2245.4 1497.1,2249.5C1497.9,2253.6 1500.5,2276.7 1501.3,2282.8C1502.1,2288.9 1505.7,2316.4 1506.6,2323.1C1507.5,2329.8 1511.5,2359.8 1512.5,2363.4C1513.6,2367.0 1517.7,2366.4 1518.9,2365.9C1520.0,2365.3 1524.7,2357.9 1525.9,2356.4C1527.0,2354.9 1531.1,2346.3 1532.2,2347.6C1533.2,2348.9 1537.0,2367.5 1538.1,2372.2C1539.2,2376.8 1544.0,2399.0 1545.1,2403.7C1546.3,2408.4 1551.0,2424.1 1552.1,2428.2C1553.3,2432.3 1558.1,2448.5 1559.1,2452.8C1560.2,2457.0 1563.5,2473.2 1564.4,2479.0C1565.3,2484.9 1568.8,2522.7 1569.7,2522.8C1570.5,2523.0 1574.0,2486.0 1574.9,2480.8C1575.8,2475.5 1579.1,2462.8 1580.2,2459.8C1581.3,2456.7 1586.9,2443.6 1588.2,2444.0C1589.5,2444.4 1594.8,2462.4 1595.9,2465.0C1597.1,2467.6 1601.2,2475.1 1602.2,2475.5C1603.3,2476.0 1607.1,2471.4 1608.2,2470.3C1609.3,2469.1 1613.7,2462.5 1615.2,2461.5C1616.7,2460.5 1624.3,2457.4 1625.7,2458.0C1627.2,2458.6 1631.6,2466.7 1632.7,2468.5C1633.9,2470.4 1638.1,2479.3 1639.7,2480.1C1641.3,2480.9 1650.4,2477.5 1652.0,2478.0C1653.6,2478.5 1657.8,2484.1 1659.0,2486.0C1660.2,2488.0 1665.0,2500.5 1666.0,2501.8C1667.0,2503.1 1670.2,2502.8 1671.3,2501.8C1672.3,2500.8 1677.0,2492.3 1678.3,2490.2C1679.6,2488.2 1685.9,2477.8 1687.0,2477.3C1688.2,2476.8 1691.6,2482.2 1692.3,2484.3C1693.0,2486.3 1695.0,2499.7 1695.8,2501.8C1696.6,2503.9 1700.7,2509.4 1701.7,2509.5C1702.7,2509.7 1707.0,2505.7 1708.0,2503.6C1709.1,2501.5 1713.3,2486.2 1714.3,2484.3C1715.4,2482.3 1719.4,2479.7 1720.3,2480.1C1721.2,2480.4 1724.5,2487.1 1725.6,2488.5C1726.6,2489.9 1731.1,2495.5 1732.6,2496.5C1734.0,2497.6 1741.5,2500.5 1743.1,2501.1C1744.7,2501.7 1750.4,2503.3 1751.8,2504.3C1753.2,2505.2 1758.7,2512.7 1759.9,2512.3C1761.1,2512.0 1764.9,2502.2 1765.8,2500.1C1766.8,2497.9 1770.3,2487.1 1771.8,2486.0C1773.3,2485.0 1781.8,2486.7 1783.4,2487.1C1784.9,2487.5 1789.2,2490.4 1790.4,2491.3C1791.5,2492.2 1796.2,2498.2 1797.4,2497.6C1798.5,2497.0 1803.3,2486.2 1804.4,2484.3C1805.5,2482.4 1809.4,2475.3 1810.3,2474.5C1811.3,2473.7 1815.1,2473.1 1815.9,2474.5C1816.8,2475.9 1819.2,2488.7 1820.2,2491.3C1821.1,2493.9 1826.0,2504.6 1827.2,2505.3C1828.3,2506.0 1833.0,2500.8 1834.2,2500.1C1835.3,2499.3 1839.7,2496.8 1841.2,2496.5C1842.6,2496.3 1850.1,2497.3 1851.7,2496.5C1853.3,2495.8 1859.0,2487.5 1860.4,2487.1C1861.9,2486.7 1868.0,2491.1 1869.2,2492.0C1870.4,2492.9 1873.6,2497.2 1874.5,2498.3C1875.3,2499.4 1878.8,2505.7 1879.7,2505.3C1880.6,2504.9 1884.0,2495.7 1885.0,2493.0C1885.9,2490.4 1889.9,2476.1 1890.9,2473.8C1892.0,2471.4 1896.3,2464.4 1897.2,2465.0C1898.2,2465.6 1901.5,2478.0 1902.5,2480.8C1903.5,2483.6 1908.2,2496.9 1909.5,2498.3C1910.8,2499.7 1917.2,2498.4 1918.3,2497.6C1919.3,2496.8 1921.6,2487.8 1922.5,2488.5C1923.3,2489.1 1927.0,2503.3 1928.1,2505.3C1929.2,2507.3 1934.7,2512.5 1935.8,2512.3C1936.9,2512.2 1940.0,2505.2 1941.0,2503.6C1942.1,2502.0 1946.7,2493.8 1948.0,2493.0C1949.4,2492.3 1955.3,2493.8 1956.8,2494.1C1958.4,2494.4 1965.2,2497.7 1966.6,2496.5C1968.0,2495.4 1972.5,2482.6 1973.6,2480.8C1974.8,2478.9 1979.6,2475.4 1980.6,2474.5C1981.7,2473.6 1985.7,2469.3 1986.6,2470.3C1987.5,2471.2 1990.8,2483.1 1991.8,2486.0C1992.9,2489.0 1997.7,2503.0 1998.9,2505.3C2000.0,2507.6 2004.1,2514.5 2005.2,2514.1C2006.2,2513.6 2010.0,2502.3 2011.1,2500.1C2012.2,2497.8 2017.0,2488.8 2018.1,2487.1C2019.2,2485.3 2023.4,2478.6 2024.4,2479.0C2025.5,2479.4 2029.3,2491.2 2030.4,2492.0C2031.5,2492.8 2036.2,2488.6 2037.4,2488.5C2038.6,2488.4 2043.1,2489.9 2044.4,2490.6C2045.7,2491.3 2051.7,2495.5 2053.2,2496.5C2054.6,2497.6 2060.6,2503.7 2061.9,2503.6C2063.2,2503.4 2067.8,2496.3 2068.9,2494.8C2070.1,2493.2 2074.6,2486.0 2075.9,2485.0C2077.2,2484.0 2083.4,2482.1 2084.7,2482.5C2086.0,2483.0 2090.5,2489.1 2091.7,2490.6C2092.9,2492.1 2097.5,2499.1 2098.7,2500.1C2099.9,2501.0 2104.6,2500.9 2105.7,2501.8C2106.9,2502.7 2111.7,2509.9 2112.7,2510.6C2113.7,2511.2 2117.0,2511.0 2118.0,2509.5C2118.9,2508.1 2123.3,2494.4 2124.3,2493.0C2125.3,2491.7 2129.2,2492.0 2130.2,2493.0C2131.3,2494.1 2136.2,2504.3 2137.3,2505.3C2138.3,2506.3 2141.5,2505.2 2142.5,2504.6C2143.5,2504.0 2148.3,2499.4 2149.5,2498.3C2150.7,2497.2 2155.4,2491.3 2156.5,2491.3C2157.7,2491.3 2162.5,2497.1 2163.5,2498.3C2164.6,2499.5 2168.3,2504.7 2168.8,2505.3" fill="none" stroke="#1a1a1a" stroke-width="3.2" stroke-linejoin="round" stroke-linecap="round"/>
<path d="M258.4,2522.8v-12M258.4,2232.7v12M573.6,2522.8v-12M573.6,2232.7v12M888.9,2522.8v-12M888.9,2232.7v12M1204.2,2522.8v-12M1204.2,2232.7v12M1519.4,2522.8v-12M1519.4,2232.7v12M1834.7,2522.8v-12M1834.7,2232.7v12M2149.9,2522.8v-12M2149.9,2232.7v12M258.4,2490.6h12M2168.5,2490.6h-12M258.4,2371.8h12M2168.5,2371.8h-12M258.4,2253.0h12M2168.5,2253.0h-12" stroke="#262626" stroke-opacity="0.75" stroke-width="2" fill="none"/>
<rect x="258.4" y="2232.7" width="1910.1" height="290.1" fill="none" stroke="#262626" stroke-width="2.2"/>
<text x="894.3" y="2399.7" font-family="'Liberation Sans', Arial, Helvetica, sans-serif" font-size="54" fill="#ffffff" text-anchor="middle">3</text>
<text x="1842.0" y="2399.7" font-family="'Liberation Sans', Arial, Helvetica, sans-serif" font-size="54" fill="#ffffff" text-anchor="middle" stroke="#ffffff" stroke-width="1.4" stroke-linejoin="round">2</text>
<text x="253.9" y="2565.0" font-family="'Liberation Sans', Arial, Helvetica, sans-serif" font-size="42" fill="#262626" text-anchor="middle">0</text>
<text x="573.6" y="2565.0" font-family="'Liberation Sans', Arial, Helvetica, sans-serif" font-size="42" fill="#262626" text-anchor="middle">5</text>
<text x="888.9" y="2565.0" font-family="'Liberation Sans', Arial, Helvetica, sans-serif" font-size="42" fill="#262626" text-anchor="middle">10</text>
<text x="1204.2" y="2565.0" font-family="'Liberation Sans', Arial, Helvetica, sans-serif" font-size="42" fill="#262626" text-anchor="middle">15</text>
<text x="1519.4" y="2565.0" font-family="'Liberation Sans', Arial, Helvetica, sans-serif" font-size="42" fill="#262626" text-anchor="middle">20</text>
<text x="1834.7" y="2565.0" font-family="'Liberation Sans', Arial, Helvetica, sans-serif" font-size="42" fill="#262626" text-anchor="middle">25</text>
<text x="2149.9" y="2565.0" font-family="'Liberation Sans', Arial, Helvetica, sans-serif" font-size="42" fill="#262626" text-anchor="middle">30</text>
<text x="241.7" y="2504.4" font-family="'Liberation Sans', Arial, Helvetica, sans-serif" font-size="42" fill="#262626" text-anchor="end">0</text>
<text x="241.7" y="2385.6" font-family="'Liberation Sans', Arial, Helvetica, sans-serif" font-size="42" fill="#262626" text-anchor="end">0.5</text>
<text x="241.7" y="2266.8" font-family="'Liberation Sans', Arial, Helvetica, sans-serif" font-size="42" fill="#262626" text-anchor="end">1</text>
<text transform="translate(89.7,2387.5) rotate(-90)" x="0" y="0" font-family="'Liberation Sans', Arial, Helvetica, sans-serif" font-size="53.5" fill="#262626" text-anchor="middle">Acceleration</text>
<text transform="translate(152.8,2386.7) rotate(-90)" x="0" y="0" font-family="'Liberation Sans', Arial, Helvetica, sans-serif" font-size="53.5" fill="#262626" text-anchor="middle">(m/s2)</text>
</g>
<g id="b2">
<rect x="258.4" y="2638.4" width="1242" height="291" fill="#a8c9dc"/>
<rect x="1500.4" y="2638.4" width="668.1" height="291" fill="#7e8796"/>
<clipPath id="clip_b2"><rect x="258.4" y="2638.4" width="1910.1" height="291"/></clipPath>
<path clip-path="url(#clip_b2)" d="M265.8,2905.8C269.0,2905.3 278.9,2904.1 285.0,2903.3C291.2,2902.5 296.7,2901.0 302.6,2900.8C308.4,2900.7 313.7,2902.5 320.1,2902.6C326.5,2902.7 334.1,2902.2 341.1,2901.5C348.1,2900.9 355.1,2899.2 362.1,2898.7C369.1,2898.3 376.7,2898.9 383.1,2898.7C389.6,2898.6 394.8,2898.2 400.7,2897.7C406.5,2897.2 412.3,2896.1 418.2,2895.6C424.0,2895.1 429.9,2895.1 435.7,2894.5C441.5,2894.0 446.8,2892.8 453.2,2892.1C459.6,2891.3 467.2,2890.3 474.2,2890.0C481.3,2889.6 488.8,2890.8 495.3,2890.0C501.7,2889.2 507.5,2886.5 512.8,2885.1C518.0,2883.7 521.5,2882.2 526.8,2881.6C532.1,2881.0 538.5,2882.0 544.3,2881.6C550.2,2881.1 556.0,2879.2 561.8,2878.8C567.7,2878.3 573.5,2879.4 579.4,2878.8C585.2,2878.2 591.0,2875.9 596.9,2875.3C602.7,2874.7 608.6,2875.9 614.4,2875.3C620.2,2874.7 626.1,2872.5 631.9,2871.8C637.8,2871.1 644.2,2871.6 649.4,2871.1C654.7,2870.5 658.2,2868.8 663.5,2868.3C668.7,2867.7 674.9,2867.9 681.0,2867.6C687.1,2867.3 693.9,2867.4 700.0,2866.5C706.1,2865.6 711.7,2862.9 717.5,2862.0C723.4,2861.0 729.8,2861.4 735.0,2860.6C740.3,2859.7 743.8,2857.7 749.1,2857.0C754.3,2856.4 760.7,2856.8 766.6,2856.7C772.4,2856.6 778.3,2857.5 784.1,2856.7C789.9,2855.9 795.8,2853.1 801.6,2851.8C807.5,2850.5 812.1,2849.9 819.1,2849.0C826.1,2848.1 837.2,2846.5 843.7,2846.2C850.1,2845.9 853.0,2847.2 857.7,2847.2C862.3,2847.2 866.4,2847.4 871.7,2846.2C876.9,2845.0 882.8,2841.3 889.2,2840.2C895.6,2839.1 903.8,2840.1 910.2,2839.5C916.7,2838.9 921.9,2837.6 927.8,2836.7C933.6,2835.9 939.4,2835.2 945.3,2834.3C951.1,2833.4 957.5,2831.6 962.8,2831.5C968.0,2831.3 972.1,2833.2 976.8,2833.2C981.5,2833.3 986.1,2832.8 990.8,2831.8C995.5,2830.8 999.6,2827.9 1004.8,2827.3C1010.1,2826.6 1016.5,2828.3 1022.4,2828.0C1028.2,2827.6 1033.5,2826.0 1039.9,2825.2C1046.3,2824.3 1054.5,2823.4 1060.9,2822.7C1067.3,2822.0 1072.6,2821.7 1078.4,2821.0C1084.3,2820.2 1089.5,2818.6 1095.9,2818.2C1102.4,2817.7 1110.5,2818.7 1117.0,2818.2C1123.4,2817.6 1128.6,2815.8 1134.5,2815.0C1140.3,2814.2 1146.2,2813.7 1152.0,2813.3C1157.8,2812.8 1164.3,2812.8 1169.5,2812.2C1174.8,2811.6 1178.5,2809.8 1183.5,2809.4C1188.6,2809.0 1194.3,2810.2 1200.0,2809.7C1205.7,2809.3 1211.7,2807.7 1217.5,2806.9C1223.4,2806.2 1229.2,2805.7 1235.0,2805.2C1240.9,2804.7 1246.7,2804.9 1252.6,2804.1C1258.4,2803.4 1264.2,2801.2 1270.1,2800.6C1275.9,2800.1 1281.8,2800.9 1287.6,2800.6C1293.4,2800.3 1299.3,2799.4 1305.1,2798.9C1311.0,2798.4 1316.8,2798.0 1322.6,2797.5C1328.5,2797.0 1334.3,2796.4 1340.2,2795.7C1346.0,2795.1 1351.8,2794.2 1357.7,2793.6C1363.5,2793.0 1370.5,2792.9 1375.2,2792.2C1379.9,2791.5 1382.8,2790.8 1385.7,2789.4C1388.6,2788.1 1389.8,2785.5 1392.7,2784.2C1395.6,2782.9 1399.7,2782.7 1403.2,2781.7C1406.7,2780.7 1410.2,2779.8 1413.7,2778.2C1417.2,2776.6 1420.2,2774.7 1424.2,2771.9C1428.3,2769.1 1433.6,2765.0 1438.3,2761.4C1442.9,2757.8 1447.6,2754.3 1452.3,2750.2C1456.9,2746.1 1461.6,2741.4 1466.3,2736.9C1471.0,2732.3 1475.6,2726.8 1480.3,2722.9C1485.0,2718.9 1490.2,2715.1 1494.3,2713.0C1498.4,2711.0 1501.3,2711.6 1504.8,2710.6C1508.3,2709.6 1511.8,2708.8 1515.3,2707.1C1518.9,2705.3 1522.4,2702.0 1525.9,2700.1C1529.4,2698.1 1532.3,2696.5 1536.4,2695.5C1540.5,2694.5 1546.3,2694.2 1550.4,2694.1C1554.5,2694.0 1557.7,2694.0 1560.9,2694.8C1564.1,2695.6 1566.7,2699.0 1569.7,2699.0C1572.6,2699.0 1575.2,2695.9 1578.4,2694.8C1581.6,2693.7 1584.8,2693.0 1588.9,2692.4C1593.0,2691.8 1597.7,2692.3 1602.9,2691.3C1608.2,2690.4 1614.6,2687.8 1620.5,2686.8C1626.3,2685.7 1632.1,2685.4 1638.0,2685.0C1643.8,2684.6 1649.7,2684.4 1655.5,2684.3C1661.3,2684.2 1667.8,2684.6 1673.0,2684.3C1678.3,2684.0 1681.8,2682.6 1687.0,2682.6C1692.3,2682.6 1698.7,2684.5 1704.5,2684.3C1710.4,2684.1 1716.2,2682.0 1722.0,2681.5C1727.9,2681.0 1733.1,2681.4 1739.6,2681.5C1746.0,2681.6 1754.2,2682.1 1760.6,2681.9C1767.0,2681.6 1772.3,2680.4 1778.1,2679.8C1783.9,2679.1 1789.8,2678.7 1795.6,2678.0C1801.5,2677.3 1807.9,2675.7 1813.1,2675.6C1818.4,2675.4 1821.9,2677.2 1827.2,2677.3C1832.4,2677.4 1838.8,2676.7 1844.7,2676.3C1850.5,2675.8 1856.1,2675.1 1862.2,2674.8C1868.3,2674.6 1876.2,2675.4 1881.5,2674.8C1886.7,2674.3 1888.8,2671.9 1893.7,2671.3C1898.7,2670.8 1904.2,2671.1 1911.3,2671.3C1918.3,2671.6 1928.2,2673.1 1935.8,2673.1C1943.4,2673.1 1951.0,2671.9 1956.8,2671.3C1962.6,2670.8 1966.1,2670.4 1970.8,2669.6C1975.5,2668.8 1979.6,2667.0 1984.8,2666.8C1990.1,2666.6 1997.1,2668.7 2002.4,2668.5C2007.6,2668.4 2011.1,2666.7 2016.4,2666.1C2021.6,2665.5 2026.9,2665.4 2033.9,2665.0C2040.9,2664.7 2050.8,2664.5 2058.4,2664.0C2066.0,2663.5 2072.4,2662.5 2079.4,2662.2C2086.4,2661.9 2093.5,2662.2 2100.5,2662.2C2107.5,2662.2 2115.6,2662.4 2121.5,2662.2C2127.3,2662.1 2130.8,2661.7 2135.5,2661.5C2140.2,2661.4 2144.3,2661.5 2149.5,2661.5C2154.8,2661.5 2164.1,2661.5 2167.0,2661.5" fill="none" stroke="#1a1a1a" stroke-width="3.2" stroke-linejoin="round" stroke-linecap="round"/>
<path d="M258.4,2929.4v-12M258.4,2638.4v12M573.6,2929.4v-12M573.6,2638.4v12M888.9,2929.4v-12M888.9,2638.4v12M1204.2,2929.4v-12M1204.2,2638.4v12M1519.4,2929.4v-12M1519.4,2638.4v12M1834.7,2929.4v-12M1834.7,2638.4v12M2149.9,2929.4v-12M2149.9,2638.4v12M258.4,2929.4h12M2168.5,2929.4h-12M258.4,2832.4h12M2168.5,2832.4h-12M258.4,2735.4h12M2168.5,2735.4h-12M258.4,2638.4h12M2168.5,2638.4h-12" stroke="#262626" stroke-opacity="0.75" stroke-width="2" fill="none"/>
<rect x="258.4" y="2638.4" width="1910.1" height="291" fill="none" stroke="#262626" stroke-width="2.2"/>
<text x="894.3" y="2795.1" font-family="'Liberation Sans', Arial, Helvetica, sans-serif" font-size="54" fill="#ffffff" text-anchor="middle">3</text>
<text x="1842.0" y="2795.1" font-family="'Liberation Sans', Arial, Helvetica, sans-serif" font-size="54" fill="#ffffff" text-anchor="middle" stroke="#ffffff" stroke-width="1.4" stroke-linejoin="round">2</text>
<text x="253.9" y="2970.2" font-family="'Liberation Sans', Arial, Helvetica, sans-serif" font-size="42" fill="#262626" text-anchor="middle">0</text>
<text x="573.6" y="2970.2" font-family="'Liberation Sans', Arial, Helvetica, sans-serif" font-size="42" fill="#262626" text-anchor="middle">5</text>
<text x="888.9" y="2970.2" font-family="'Liberation Sans', Arial, Helvetica, sans-serif" font-size="42" fill="#262626" text-anchor="middle">10</text>
<text x="1204.2" y="2970.2" font-family="'Liberation Sans', Arial, Helvetica, sans-serif" font-size="42" fill="#262626" text-anchor="middle">15</text>
<text x="1519.4" y="2970.2" font-family="'Liberation Sans', Arial, Helvetica, sans-serif" font-size="42" fill="#262626" text-anchor="middle">20</text>
<text x="1834.7" y="2970.2" font-family="'Liberation Sans', Arial, Helvetica, sans-serif" font-size="42" fill="#262626" text-anchor="middle">25</text>
<text x="2149.9" y="2970.2" font-family="'Liberation Sans', Arial, Helvetica, sans-serif" font-size="42" fill="#262626" text-anchor="middle">30</text>
<text x="241.7" y="2947.0" font-family="'Liberation Sans', Arial, Helvetica, sans-serif" font-size="42" fill="#262626" text-anchor="end">16</text>
<text x="241.7" y="2850.0" font-family="'Liberation Sans', Arial, Helvetica, sans-serif" font-size="42" fill="#262626" text-anchor="end">18</text>
<text x="241.7" y="2753.0" font-family="'Liberation Sans', Arial, Helvetica, sans-serif" font-size="42" fill="#262626" text-anchor="end">20</text>
<text x="241.7" y="2656.0" font-family="'Liberation Sans', Arial, Helvetica, sans-serif" font-size="42" fill="#262626" text-anchor="end">22</text>
<text transform="translate(89.7,2786.4) rotate(-90)" x="0" y="0" font-family="'Liberation Sans', Arial, Helvetica, sans-serif" font-size="53.5" fill="#262626" text-anchor="middle">Velocity</text>
<text transform="translate(152.8,2785.7) rotate(-90)" x="0" y="0" font-family="'Liberation Sans', Arial, Helvetica, sans-serif" font-size="53.5" fill="#262626" text-anchor="middle">(m/s)</text>
</g>
<g id="b3">
<rect x="258.4" y="3042" width="1242" height="291" fill="#a8c9dc"/>
<rect x="1500.4" y="3042" width="668.1" height="291" fill="#7e8796"/>
<clipPath id="clip_b3"><rect x="258.4" y="3042" width="1910.1" height="291"/></clipPath>
<path clip-path="url(#clip_b3)" d="M265.8,3333.5C269.0,3333.0 278.9,3331.8 285.0,3330.4C291.2,3328.9 296.7,3326.7 302.6,3324.8C308.4,3322.8 313.7,3320.7 320.1,3318.8C326.5,3316.9 333.5,3315.4 341.1,3313.6C348.7,3311.7 357.5,3309.4 365.6,3307.6C373.8,3305.8 382.0,3304.2 390.2,3303.0C398.3,3301.9 406.5,3301.8 414.7,3300.6C422.9,3299.4 431.6,3297.6 439.2,3296.0C446.8,3294.5 452.6,3292.9 460.2,3291.5C467.8,3290.0 476.6,3288.9 484.8,3287.3C492.9,3285.7 501.1,3283.8 509.3,3282.0C517.5,3280.3 525.7,3278.4 533.8,3276.8C541.9,3275.1 550.3,3274.3 558.0,3272.0C565.7,3269.7 573.0,3265.8 580.0,3263.0C587.0,3260.2 593.3,3257.2 600.0,3255.0C606.7,3252.8 613.3,3251.7 620.0,3250.0C626.7,3248.3 633.3,3246.5 640.0,3245.0C646.7,3243.5 653.3,3242.5 660.0,3241.0C666.7,3239.5 673.5,3237.5 680.0,3236.0C686.5,3234.5 695.7,3232.8 699.0,3232.0C702.3,3231.2 696.9,3232.3 700.0,3231.2C703.1,3230.1 711.7,3227.2 717.5,3225.3C723.4,3223.3 729.2,3221.5 735.0,3219.7C740.9,3217.8 746.7,3216.0 752.6,3214.4C758.4,3212.8 763.7,3211.6 770.1,3210.2C776.5,3208.8 783.5,3207.4 791.1,3206.0C798.7,3204.5 807.5,3202.9 815.6,3201.4C823.8,3200.0 832.0,3198.5 840.2,3197.2C848.3,3195.9 856.5,3194.8 864.7,3193.7C872.9,3192.7 881.6,3191.7 889.2,3190.9C896.8,3190.2 902.1,3189.6 910.2,3189.2C918.4,3188.7 929.5,3188.6 938.3,3188.1C947.0,3187.7 955.2,3187.2 962.8,3186.4C970.4,3185.5 976.8,3184.0 983.8,3183.2C990.8,3182.4 998.4,3182.7 1004.8,3181.5C1011.3,3180.2 1017.1,3177.6 1022.4,3175.9C1027.6,3174.1 1031.7,3172.4 1036.4,3170.9C1041.0,3169.5 1045.1,3168.0 1050.4,3167.1C1055.6,3166.2 1062.1,3165.9 1067.9,3165.3C1073.7,3164.8 1079.6,3164.3 1085.4,3163.6C1091.3,3162.9 1097.1,3162.2 1102.9,3161.1C1108.8,3160.0 1114.0,3158.2 1120.5,3156.9C1126.9,3155.6 1134.5,3154.7 1141.5,3153.4C1148.5,3152.2 1155.5,3150.7 1162.5,3149.6C1169.5,3148.4 1177.3,3146.8 1183.5,3146.4C1189.8,3146.0 1194.3,3147.6 1200.0,3147.1C1205.7,3146.7 1211.7,3144.8 1217.5,3143.6C1223.4,3142.5 1229.2,3141.5 1235.0,3140.1C1240.9,3138.8 1246.7,3137.2 1252.6,3135.6C1258.4,3133.9 1264.2,3132.2 1270.1,3130.3C1275.9,3128.4 1281.8,3126.5 1287.6,3124.3C1293.4,3122.2 1299.3,3119.9 1305.1,3117.3C1311.0,3114.8 1316.8,3112.0 1322.6,3109.3C1328.5,3106.5 1334.3,3103.9 1340.2,3100.9C1346.0,3097.8 1351.8,3094.3 1357.7,3091.1C1363.5,3087.8 1369.4,3084.5 1375.2,3081.6C1381.0,3078.7 1386.9,3075.9 1392.7,3073.5C1398.6,3071.1 1404.4,3069.1 1410.2,3067.2C1416.1,3065.4 1421.9,3063.7 1427.8,3062.3C1433.6,3060.9 1439.4,3059.9 1445.3,3058.8C1451.1,3057.8 1456.9,3057.0 1462.8,3056.0C1468.6,3055.1 1474.5,3054.1 1480.3,3053.2C1486.1,3052.3 1492.0,3051.6 1497.8,3050.8C1503.7,3049.9 1509.5,3048.9 1515.3,3048.3C1521.2,3047.7 1527.0,3047.4 1532.9,3047.3C1538.7,3047.1 1541.6,3047.4 1550.4,3047.3C1559.1,3047.1 1573.7,3046.7 1585.4,3046.6C1597.1,3046.4 1608.8,3046.4 1620.5,3046.2C1632.1,3046.0 1642.1,3045.6 1655.5,3045.5C1668.9,3045.4 1689.9,3045.6 1701.0,3045.5C1712.1,3045.4 1715.0,3045.1 1722.0,3044.8C1729.1,3044.5 1734.9,3044.3 1743.1,3043.8C1751.2,3043.2 1761.8,3041.5 1771.1,3041.3C1780.4,3041.1 1788.6,3042.3 1799.1,3042.7C1809.6,3043.1 1823.7,3043.5 1834.2,3043.8C1844.7,3044.1 1854.0,3044.2 1862.2,3044.5C1870.4,3044.8 1876.2,3044.8 1883.2,3045.5C1890.2,3046.3 1897.2,3048.0 1904.2,3049.0C1911.3,3050.1 1918.3,3050.9 1925.3,3051.8C1932.3,3052.7 1938.7,3053.7 1946.3,3054.3C1953.9,3054.8 1963.2,3054.5 1970.8,3055.0C1978.4,3055.4 1984.8,3056.2 1991.8,3057.1C1998.9,3058.0 2005.9,3059.1 2012.9,3060.2C2019.9,3061.3 2026.9,3062.6 2033.9,3063.7C2040.9,3064.9 2047.9,3066.1 2054.9,3067.2C2061.9,3068.4 2068.9,3069.7 2075.9,3070.7C2082.9,3071.8 2090.0,3072.6 2097.0,3073.5C2104.0,3074.5 2111.0,3075.4 2118.0,3076.3C2125.0,3077.3 2130.5,3078.5 2139.0,3079.5C2147.5,3080.5 2163.8,3081.8 2168.8,3082.3" fill="none" stroke="#1a1a1a" stroke-width="3.2" stroke-linejoin="round" stroke-linecap="round"/>
<path d="M258.4,3333.0v-12M258.4,3042.0v12M573.6,3333.0v-12M573.6,3042.0v12M888.9,3333.0v-12M888.9,3042.0v12M1204.2,3333.0v-12M1204.2,3042.0v12M1519.4,3333.0v-12M1519.4,3042.0v12M1834.7,3333.0v-12M1834.7,3042.0v12M2149.9,3333.0v-12M2149.9,3042.0v12M258.4,3277.5h12M2168.5,3277.5h-12M258.4,3197.2h12M2168.5,3197.2h-12M258.4,3116.9h12M2168.5,3116.9h-12" stroke="#262626" stroke-opacity="0.75" stroke-width="2" fill="none"/>
<rect x="258.4" y="3042" width="1910.1" height="291" fill="none" stroke="#262626" stroke-width="2.2"/>
<text x="894.3" y="3187.5" font-family="'Liberation Sans', Arial, Helvetica, sans-serif" font-size="54" fill="#ffffff" text-anchor="middle">3</text>
<text x="1842.0" y="3210.7" font-family="'Liberation Sans', Arial, Helvetica, sans-serif" font-size="54" fill="#ffffff" text-anchor="middle" stroke="#ffffff" stroke-width="1.4" stroke-linejoin="round">2</text>
<text x="253.9" y="3374.2" font-family="'Liberation Sans', Arial, Helvetica, sans-serif" font-size="42" fill="#262626" text-anchor="middle">0</text>
<text x="573.6" y="3374.2" font-family="'Liberation Sans', Arial, Helvetica, sans-serif" font-size="42" fill="#262626" text-anchor="middle">5</text>
<text x="888.9" y="3374.2" font-family="'Liberation Sans', Arial, Helvetica, sans-serif" font-size="42" fill="#262626" text-anchor="middle">10</text>
<text x="1204.2" y="3374.2" font-family="'Liberation Sans', Arial, Helvetica, sans-serif" font-size="42" fill="#262626" text-anchor="middle">15</text>
<text x="1519.4" y="3374.2" font-family="'Liberation Sans', Arial, Helvetica, sans-serif" font-size="42" fill="#262626" text-anchor="middle">20</text>
<text x="1834.7" y="3374.2" font-family="'Liberation Sans', Arial, Helvetica, sans-serif" font-size="42" fill="#262626" text-anchor="middle">25</text>
<text x="2149.9" y="3374.2" font-family="'Liberation Sans', Arial, Helvetica, sans-serif" font-size="42" fill="#262626" text-anchor="middle">30</text>
<text x="241.7" y="3291.0" font-family="'Liberation Sans', Arial, Helvetica, sans-serif" font-size="42" fill="#262626" text-anchor="end">10</text>
<text x="241.7" y="3210.7" font-family="'Liberation Sans', Arial, Helvetica, sans-serif" font-size="42" fill="#262626" text-anchor="end">15</text>
<text x="241.7" y="3130.4" font-family="'Liberation Sans', Arial, Helvetica, sans-serif" font-size="42" fill="#262626" text-anchor="end">20</text>
<text transform="translate(89.7,3204.0) rotate(-90)" x="0" y="0" font-family="'Liberation Sans', Arial, Helvetica, sans-serif" font-size="53.5" fill="#262626" text-anchor="middle">Gap</text>
<text transform="translate(152.8,3204.0) rotate(-90)" x="0" y="0" font-family="'Liberation Sans', Arial, Helvetica, sans-serif" font-size="53.5" fill="#262626" text-anchor="middle">(m)</text>
</g>
<g id="b4">
<rect x="258.4" y="3445.7" width="1242" height="292.1" fill="#a8c9dc"/>
<rect x="1500.4" y="3445.7" width="668.1" height="292.1" fill="#7e8796"/>
<clipPath id="clip_b4"><rect x="258.4" y="3445.7" width="1910.1" height="292.1"/></clipPath>
<path clip-path="url(#clip_b4)" d="M265.8,3526.9C267.8,3528.1 274.2,3531.6 278.0,3533.9C281.8,3536.2 285.3,3538.5 288.5,3540.6C291.8,3542.6 293.8,3544.4 297.3,3546.2C300.8,3548.0 305.2,3549.8 309.6,3551.4C313.9,3553.0 318.9,3554.6 323.6,3555.6C328.3,3556.6 332.9,3556.8 337.6,3557.4C342.3,3558.0 346.9,3558.1 351.6,3559.1C356.3,3560.2 360.4,3562.2 365.6,3563.7C370.9,3565.1 377.3,3566.8 383.1,3567.9C389.0,3569.0 394.2,3569.6 400.7,3570.3C407.1,3571.1 413.8,3572.1 421.7,3572.4C429.6,3572.8 441.5,3573.1 448.0,3572.4C454.4,3571.8 455.9,3569.6 460.2,3568.6C464.6,3567.5 469.0,3566.8 474.2,3566.1C479.5,3565.4 485.9,3564.9 491.8,3564.4C497.6,3563.9 504.6,3562.9 509.3,3563.3C514.0,3563.7 515.7,3566.0 519.8,3566.8C523.9,3567.7 529.7,3568.8 533.8,3568.6C537.9,3568.4 540.5,3566.3 544.3,3565.4C548.1,3564.6 552.8,3564.5 556.6,3563.3C560.4,3562.2 563.3,3559.7 567.1,3558.4C570.9,3557.1 575.0,3555.9 579.4,3555.6C583.7,3555.3 588.1,3556.3 593.4,3556.7C598.6,3557.1 605.9,3558.3 610.9,3558.1C615.9,3557.9 619.4,3556.8 623.2,3555.6C627.0,3554.5 629.9,3551.2 633.7,3551.1C637.5,3550.9 641.6,3553.4 645.9,3554.6C650.3,3555.7 655.9,3557.3 660.0,3558.1C664.0,3558.8 666.4,3559.4 670.5,3559.1C674.6,3558.9 679.8,3557.4 684.5,3556.7C689.1,3556.0 695.9,3555.2 698.5,3554.9C701.1,3554.6 697.7,3555.3 700.0,3554.9C702.3,3554.6 708.2,3552.5 712.3,3552.8C716.4,3553.1 721.0,3556.4 724.5,3556.7C728.0,3557.0 729.8,3554.9 733.3,3554.6C736.8,3554.3 740.6,3554.5 745.6,3554.9C750.5,3555.4 757.2,3556.6 763.1,3557.4C768.9,3558.2 774.7,3558.5 780.6,3559.8C786.4,3561.2 792.3,3563.3 798.1,3565.4C803.9,3567.5 809.8,3570.6 815.6,3572.4C821.5,3574.3 827.3,3575.5 833.1,3576.7C839.0,3577.8 845.4,3578.5 850.7,3579.1C855.9,3579.7 860.0,3579.3 864.7,3580.2C869.4,3581.0 874.0,3582.9 878.7,3584.4C883.4,3585.8 888.0,3587.0 892.7,3588.9C897.4,3590.8 902.1,3593.8 906.7,3595.9C911.4,3598.1 915.5,3600.1 920.7,3601.9C926.0,3603.6 932.4,3605.3 938.3,3606.4C944.1,3607.6 950.5,3608.3 955.8,3608.9C961.0,3609.5 965.1,3610.2 969.8,3609.9C974.5,3609.6 979.1,3608.0 983.8,3607.1C988.5,3606.3 993.7,3605.1 997.8,3604.7C1001.9,3604.3 1004.3,3605.4 1008.3,3604.7C1012.4,3604.0 1018.3,3602.1 1022.4,3600.5C1026.4,3598.9 1029.7,3596.9 1032.9,3595.2C1036.1,3593.6 1038.1,3591.6 1041.6,3590.7C1045.1,3589.7 1049.8,3589.7 1053.9,3589.6C1058.0,3589.5 1062.4,3589.2 1066.2,3590.0C1069.9,3590.7 1072.9,3593.6 1076.7,3594.2C1080.5,3594.7 1084.3,3593.5 1088.9,3593.1C1093.6,3592.7 1100.3,3592.8 1104.7,3591.7C1109.1,3590.6 1111.7,3588.2 1115.2,3586.5C1118.7,3584.7 1121.9,3582.8 1125.7,3581.2C1129.5,3579.6 1133.6,3577.7 1138.0,3576.7C1142.4,3575.6 1146.7,3575.3 1152.0,3574.9C1157.3,3574.5 1164.3,3575.1 1169.5,3574.2C1174.8,3573.3 1178.5,3570.7 1183.5,3569.6C1188.6,3568.6 1194.9,3569.1 1200.0,3567.9C1205.1,3566.7 1209.3,3564.1 1214.0,3562.6C1218.7,3561.2 1223.4,3560.1 1228.0,3559.1C1232.7,3558.1 1237.4,3558.0 1242.0,3556.7C1246.7,3555.4 1251.4,3553.5 1256.1,3551.4C1260.7,3549.3 1265.4,3546.5 1270.1,3544.1C1274.7,3541.7 1279.4,3540.4 1284.1,3537.1C1288.8,3533.7 1293.4,3528.7 1298.1,3524.1C1302.8,3519.5 1307.5,3513.5 1312.1,3509.4C1316.8,3505.3 1321.5,3503.0 1326.1,3499.6C1330.8,3496.2 1335.5,3492.0 1340.2,3489.1C1344.8,3486.1 1349.5,3483.8 1354.2,3482.0C1358.8,3480.3 1363.5,3478.7 1368.2,3478.5C1372.9,3478.4 1377.5,3479.7 1382.2,3481.0C1386.9,3482.3 1391.5,3484.6 1396.2,3486.3C1400.9,3487.9 1405.6,3488.6 1410.2,3490.8C1414.9,3493.0 1419.6,3496.4 1424.2,3499.6C1428.9,3502.8 1433.6,3506.3 1438.3,3510.1C1442.9,3513.9 1447.6,3517.4 1452.3,3522.3C1456.9,3527.3 1461.6,3534.6 1466.3,3539.9C1471.0,3545.1 1475.6,3549.5 1480.3,3553.9C1485.0,3558.3 1489.7,3562.6 1494.3,3566.1C1499.0,3569.6 1503.7,3572.0 1508.3,3574.9C1513.0,3577.8 1517.7,3580.4 1522.4,3583.7C1527.0,3586.9 1531.7,3591.0 1536.4,3594.2C1541.0,3597.4 1546.3,3600.3 1550.4,3602.9C1554.5,3605.6 1556.2,3608.6 1560.9,3609.9C1565.6,3611.3 1572.6,3609.9 1578.4,3611.0C1584.3,3612.0 1590.7,3614.5 1595.9,3616.2C1601.2,3618.0 1605.3,3619.9 1610.0,3621.5C1614.6,3623.1 1618.7,3624.7 1624.0,3625.7C1629.2,3626.7 1635.6,3627.6 1641.5,3627.5C1647.3,3627.3 1653.2,3625.4 1659.0,3624.7C1664.8,3623.9 1668.9,3623.0 1676.5,3622.9C1684.1,3622.8 1696.9,3624.2 1704.5,3624.0C1712.1,3623.7 1716.2,3621.3 1722.0,3621.5C1727.9,3621.7 1733.7,3624.0 1739.6,3625.0C1745.4,3626.0 1751.2,3626.3 1757.1,3627.5C1762.9,3628.6 1768.8,3630.1 1774.6,3632.0C1780.4,3633.9 1786.9,3637.0 1792.1,3639.0C1797.4,3641.0 1800.3,3642.5 1806.1,3643.9C1812.0,3645.3 1820.2,3646.6 1827.2,3647.4C1834.2,3648.3 1838.8,3648.9 1848.2,3649.2C1857.5,3649.5 1875.0,3648.3 1883.2,3649.2C1891.4,3650.1 1892.6,3652.5 1897.2,3654.4C1901.9,3656.4 1906.0,3658.9 1911.3,3660.7C1916.5,3662.6 1922.9,3663.5 1928.8,3665.3C1934.6,3667.0 1941.0,3669.4 1946.3,3671.3C1951.5,3673.1 1955.1,3674.9 1960.3,3676.5C1965.6,3678.1 1972.0,3678.8 1977.8,3680.7C1983.7,3682.6 1989.5,3686.0 1995.3,3688.1C2001.2,3690.1 2007.0,3691.8 2012.9,3693.0C2018.7,3694.1 2022.8,3694.4 2030.4,3695.1C2038.0,3695.7 2050.8,3695.7 2058.4,3696.8C2066.0,3698.0 2069.5,3700.7 2075.9,3702.1C2082.4,3703.5 2090.0,3705.4 2097.0,3705.2C2104.0,3705.1 2111.6,3701.9 2118.0,3701.0C2124.4,3700.2 2130.2,3700.3 2135.5,3700.0C2140.8,3699.7 2144.0,3700.6 2149.5,3699.3C2155.1,3698.0 2165.6,3693.4 2168.8,3692.3" fill="none" stroke="#1a1a1a" stroke-width="3.2" stroke-linejoin="round" stroke-linecap="round"/>
<path d="M258.4,3737.8v-12M258.4,3445.7v12M573.6,3737.8v-12M573.6,3445.7v12M888.9,3737.8v-12M888.9,3445.7v12M1204.2,3737.8v-12M1204.2,3445.7v12M1519.4,3737.8v-12M1519.4,3445.7v12M1834.7,3737.8v-12M1834.7,3445.7v12M2149.9,3737.8v-12M2149.9,3445.7v12M258.4,3737.1h12M2168.5,3737.1h-12M258.4,3639.7h12M2168.5,3639.7h-12M258.4,3542.3h12M2168.5,3542.3h-12M258.4,3444.9h12M2168.5,3444.9h-12" stroke="#262626" stroke-opacity="0.75" stroke-width="2" fill="none"/>
<rect x="258.4" y="3445.7" width="1910.1" height="292.1" fill="none" stroke="#262626" stroke-width="2.2"/>
<text x="894.3" y="3614.4" font-family="'Liberation Sans', Arial, Helvetica, sans-serif" font-size="54" fill="#ffffff" text-anchor="middle">3</text>
<text x="1842.0" y="3614.4" font-family="'Liberation Sans', Arial, Helvetica, sans-serif" font-size="54" fill="#ffffff" text-anchor="middle" stroke="#ffffff" stroke-width="1.4" stroke-linejoin="round">2</text>
<text x="253.9" y="3783.0" font-family="'Liberation Sans', Arial, Helvetica, sans-serif" font-size="42" fill="#262626" text-anchor="middle">0</text>
<text x="573.6" y="3783.0" font-family="'Liberation Sans', Arial, Helvetica, sans-serif" font-size="42" fill="#262626" text-anchor="middle">5</text>
<text x="888.9" y="3783.0" font-family="'Liberation Sans', Arial, Helvetica, sans-serif" font-size="42" fill="#262626" text-anchor="middle">10</text>
<text x="1204.2" y="3783.0" font-family="'Liberation Sans', Arial, Helvetica, sans-serif" font-size="42" fill="#262626" text-anchor="middle">15</text>
<text x="1519.4" y="3783.0" font-family="'Liberation Sans', Arial, Helvetica, sans-serif" font-size="42" fill="#262626" text-anchor="middle">20</text>
<text x="1834.7" y="3783.0" font-family="'Liberation Sans', Arial, Helvetica, sans-serif" font-size="42" fill="#262626" text-anchor="middle">25</text>
<text x="2149.9" y="3783.0" font-family="'Liberation Sans', Arial, Helvetica, sans-serif" font-size="42" fill="#262626" text-anchor="middle">30</text>
<text x="241.7" y="3755.7" font-family="'Liberation Sans', Arial, Helvetica, sans-serif" font-size="42" fill="#262626" text-anchor="end">−1</text>
<text x="241.7" y="3658.3" font-family="'Liberation Sans', Arial, Helvetica, sans-serif" font-size="42" fill="#262626" text-anchor="end">0</text>
<text x="241.7" y="3560.9" font-family="'Liberation Sans', Arial, Helvetica, sans-serif" font-size="42" fill="#262626" text-anchor="end">1</text>
<text x="241.7" y="3463.5" font-family="'Liberation Sans', Arial, Helvetica, sans-serif" font-size="42" fill="#262626" text-anchor="end">2</text>
<text transform="translate(89.7,3592.0) rotate(-90)" x="0" y="0" font-family="'Liberation Sans', Arial, Helvetica, sans-serif" font-size="53.5" fill="#262626" text-anchor="middle">Velocity Diff</text>
<text transform="translate(152.8,3592.7) rotate(-90)" x="0" y="0" font-family="'Liberation Sans', Arial, Helvetica, sans-serif" font-size="53.5" fill="#262626" text-anchor="middle">(m/s)</text>
</g>
<text x="1225.2" y="1777.4" font-family="'Liberation Sans', Arial, Helvetica, sans-serif" font-size="54" fill="#262626" text-anchor="middle">Horizon (s)</text>
<text x="1208.2" y="3870" font-family="'Liberation Sans', Arial, Helvetica, sans-serif" font-size="53.4" fill="#262626" text-anchor="middle">Horizon (s)</text>
<text transform="translate(1072.3,1931.9) scale(0.86,1)" x="0" y="0" font-family="'Liberation Serif', 'Times New Roman', serif" font-size="86" fill="#000" text-anchor="middle">(</text>
<text x="1107.0" y="1931.9" font-family="'Liberation Serif', 'Times New Roman', serif" font-size="88" font-weight="bold" fill="#000" text-anchor="middle">a</text>
<text transform="translate(1140.6,1931.9) scale(0.86,1)" x="0" y="0" font-family="'Liberation Serif', 'Times New Roman', serif" font-size="86" fill="#000" text-anchor="middle">)</text>
<text transform="translate(1068.3,4027.0) scale(0.86,1)" x="0" y="0" font-family="'Liberation Serif', 'Times New Roman', serif" font-size="86" fill="#000" text-anchor="middle">(</text>
<text x="1107.2" y="4027.0" font-family="'Liberation Serif', 'Times New Roman', serif" font-size="88" font-weight="bold" fill="#000" text-anchor="middle">b</text>
<text transform="translate(1145.2,4027.0) scale(0.86,1)" x="0" y="0" font-family="'Liberation Serif', 'Times New Roman', serif" font-size="86" fill="#000" text-anchor="middle">)</text>
</g>
</svg>
</body></html>
